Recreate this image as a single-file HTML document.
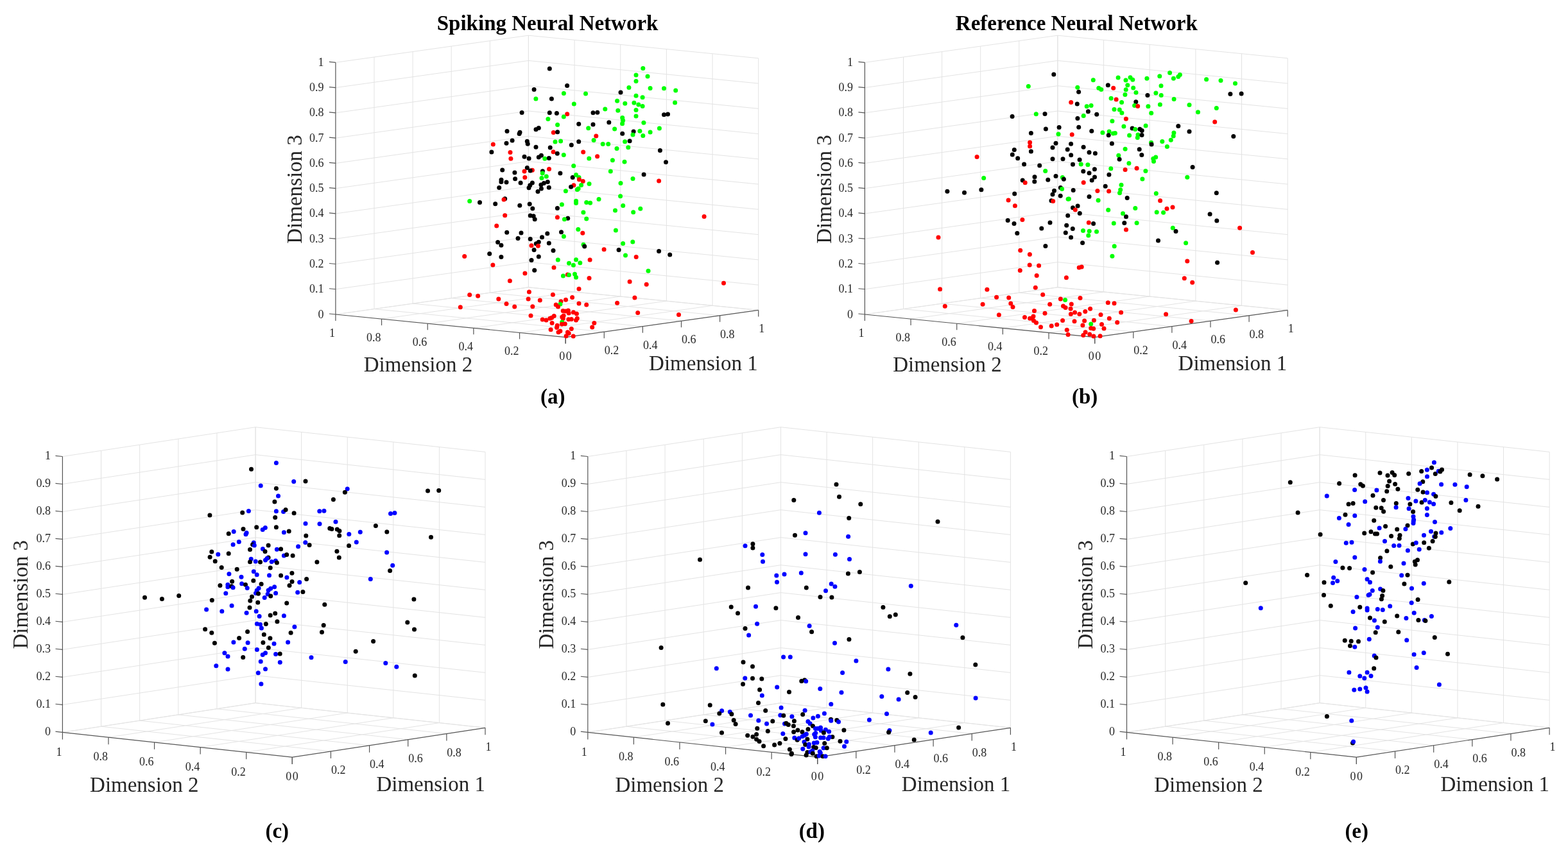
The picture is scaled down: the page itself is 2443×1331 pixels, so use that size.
<!DOCTYPE html>
<html><head><meta charset="utf-8"><title>Spiking vs Reference Neural Network</title>
<style>
html,body{margin:0;padding:0;background:#fff;width:2443px;height:1331px;overflow:hidden}
svg{display:block}
.g{stroke:#e3e3e3;stroke-width:1;fill:none}
.a{stroke:#555555;stroke-width:1.2;fill:none}
text{font-family:"Liberation Serif","Times New Roman",serif;fill:#262626}
.tz{font-size:18px;text-anchor:end}
.t1{font-size:18px;text-anchor:start}
.al{font-size:33px;text-anchor:middle}
.ti{font-size:33px;font-weight:bold;text-anchor:middle;fill:#000}
</style></head><body>
<svg xmlns="http://www.w3.org/2000/svg" width="2443" height="1331" viewBox="0 0 2443 1331">
<rect width="2443" height="1331" fill="#fff"/>
<g id="pa">
<line x1="941.3" y1="517.16" x2="583" y2="481.56" class="g"/>
<line x1="809.54" y1="518.48" x2="1110.04" y2="476.28" class="g"/>
<line x1="1001.4" y1="508.72" x2="643.1" y2="473.12" class="g"/>
<line x1="737.88" y1="511.36" x2="1038.38" y2="469.16" class="g"/>
<line x1="1061.5" y1="500.28" x2="703.2" y2="464.68" class="g"/>
<line x1="666.22" y1="504.24" x2="966.72" y2="462.04" class="g"/>
<line x1="1121.6" y1="491.84" x2="763.3" y2="456.24" class="g"/>
<line x1="594.56" y1="497.12" x2="895.06" y2="454.92" class="g"/>
<line x1="1181.7" y1="483.4" x2="823.4" y2="447.8" class="g"/>
<line x1="522.9" y1="490" x2="823.4" y2="447.8" class="g"/>
<line x1="583" y1="481.56" x2="583" y2="88.96" class="g"/>
<line x1="643.1" y1="473.12" x2="643.1" y2="80.52" class="g"/>
<line x1="703.2" y1="464.68" x2="703.2" y2="72.08" class="g"/>
<line x1="763.3" y1="456.24" x2="763.3" y2="63.64" class="g"/>
<line x1="823.4" y1="447.8" x2="823.4" y2="55.2" class="g"/>
<line x1="522.9" y1="490" x2="823.4" y2="447.8" class="g"/>
<line x1="522.9" y1="450.74" x2="823.4" y2="408.54" class="g"/>
<line x1="522.9" y1="411.48" x2="823.4" y2="369.28" class="g"/>
<line x1="522.9" y1="372.22" x2="823.4" y2="330.02" class="g"/>
<line x1="522.9" y1="332.96" x2="823.4" y2="290.76" class="g"/>
<line x1="522.9" y1="293.7" x2="823.4" y2="251.5" class="g"/>
<line x1="522.9" y1="254.44" x2="823.4" y2="212.24" class="g"/>
<line x1="522.9" y1="215.18" x2="823.4" y2="172.98" class="g"/>
<line x1="522.9" y1="175.92" x2="823.4" y2="133.72" class="g"/>
<line x1="522.9" y1="136.66" x2="823.4" y2="94.46" class="g"/>
<line x1="522.9" y1="97.4" x2="823.4" y2="55.2" class="g"/>
<line x1="1181.7" y1="483.4" x2="1181.7" y2="90.8" class="g"/>
<line x1="1110.04" y1="476.28" x2="1110.04" y2="83.68" class="g"/>
<line x1="1038.38" y1="469.16" x2="1038.38" y2="76.56" class="g"/>
<line x1="966.72" y1="462.04" x2="966.72" y2="69.44" class="g"/>
<line x1="895.06" y1="454.92" x2="895.06" y2="62.32" class="g"/>
<line x1="823.4" y1="447.8" x2="823.4" y2="55.2" class="g"/>
<line x1="1181.7" y1="483.4" x2="823.4" y2="447.8" class="g"/>
<line x1="1181.7" y1="444.14" x2="823.4" y2="408.54" class="g"/>
<line x1="1181.7" y1="404.88" x2="823.4" y2="369.28" class="g"/>
<line x1="1181.7" y1="365.62" x2="823.4" y2="330.02" class="g"/>
<line x1="1181.7" y1="326.36" x2="823.4" y2="290.76" class="g"/>
<line x1="1181.7" y1="287.1" x2="823.4" y2="251.5" class="g"/>
<line x1="1181.7" y1="247.84" x2="823.4" y2="212.24" class="g"/>
<line x1="1181.7" y1="208.58" x2="823.4" y2="172.98" class="g"/>
<line x1="1181.7" y1="169.32" x2="823.4" y2="133.72" class="g"/>
<line x1="1181.7" y1="130.06" x2="823.4" y2="94.46" class="g"/>
<line x1="1181.7" y1="90.8" x2="823.4" y2="55.2" class="g"/>
<line x1="881.2" y1="525.6" x2="522.9" y2="490" class="a"/>
<line x1="881.2" y1="525.6" x2="1181.7" y2="483.4" class="a"/>
<line x1="522.9" y1="490" x2="522.9" y2="97.4" class="a"/>
<line x1="522.9" y1="490" x2="512.95" y2="489.01" class="a"/>
<line x1="522.9" y1="450.74" x2="512.95" y2="449.75" class="a"/>
<line x1="522.9" y1="411.48" x2="512.95" y2="410.49" class="a"/>
<line x1="522.9" y1="372.22" x2="512.95" y2="371.23" class="a"/>
<line x1="522.9" y1="332.96" x2="512.95" y2="331.97" class="a"/>
<line x1="522.9" y1="293.7" x2="512.95" y2="292.71" class="a"/>
<line x1="522.9" y1="254.44" x2="512.95" y2="253.45" class="a"/>
<line x1="522.9" y1="215.18" x2="512.95" y2="214.19" class="a"/>
<line x1="522.9" y1="175.92" x2="512.95" y2="174.93" class="a"/>
<line x1="522.9" y1="136.66" x2="512.95" y2="135.67" class="a"/>
<line x1="522.9" y1="97.4" x2="512.95" y2="96.41" class="a"/>
<line x1="881.2" y1="525.6" x2="881.2" y2="535.6" class="a"/>
<line x1="881.2" y1="525.6" x2="881.2" y2="535.6" class="a"/>
<line x1="941.3" y1="517.16" x2="941.3" y2="527.16" class="a"/>
<line x1="809.54" y1="518.48" x2="809.54" y2="528.48" class="a"/>
<line x1="1001.4" y1="508.72" x2="1001.4" y2="518.72" class="a"/>
<line x1="737.88" y1="511.36" x2="737.88" y2="521.36" class="a"/>
<line x1="1061.5" y1="500.28" x2="1061.5" y2="510.28" class="a"/>
<line x1="666.22" y1="504.24" x2="666.22" y2="514.24" class="a"/>
<line x1="1121.6" y1="491.84" x2="1121.6" y2="501.84" class="a"/>
<line x1="594.56" y1="497.12" x2="594.56" y2="507.12" class="a"/>
<line x1="1181.7" y1="483.4" x2="1181.7" y2="493.4" class="a"/>
<line x1="522.9" y1="490" x2="522.9" y2="500" class="a"/>
<text x="504.4" y="495.5" class="tz">0</text>
<text x="504.4" y="456.24" class="tz">0.1</text>
<text x="504.4" y="416.98" class="tz">0.2</text>
<text x="504.4" y="377.72" class="tz">0.3</text>
<text x="504.4" y="338.46" class="tz">0.4</text>
<text x="504.4" y="299.2" class="tz">0.5</text>
<text x="504.4" y="259.94" class="tz">0.6</text>
<text x="504.4" y="220.68" class="tz">0.7</text>
<text x="504.4" y="181.42" class="tz">0.8</text>
<text x="504.4" y="142.16" class="tz">0.9</text>
<text x="504.4" y="102.9" class="tz">1</text>
<text x="880.2" y="560.6" class="tz">0</text>
<text x="881.7" y="560.6" class="t1">0</text>
<text x="808.54" y="553.48" class="tz">0.2</text>
<text x="941.8" y="552.16" class="t1">0.2</text>
<text x="736.88" y="546.36" class="tz">0.4</text>
<text x="1001.9" y="543.72" class="t1">0.4</text>
<text x="665.22" y="539.24" class="tz">0.6</text>
<text x="1062" y="535.28" class="t1">0.6</text>
<text x="593.56" y="532.12" class="tz">0.8</text>
<text x="1122.1" y="526.84" class="t1">0.8</text>
<text x="521.9" y="525" class="tz">1</text>
<text x="1182.2" y="518.4" class="t1">1</text>
<circle cx="856.3" cy="107.1" r="3.5" fill="#000"/>
<circle cx="883.6" cy="133.6" r="3.5" fill="#000"/>
<circle cx="832.1" cy="139.6" r="3.5" fill="#000"/>
<circle cx="878.4" cy="145.6" r="3.5" fill="#0f0"/>
<circle cx="912.5" cy="145.9" r="3.5" fill="#0f0"/>
<circle cx="834.9" cy="154.1" r="3.5" fill="#0f0"/>
<circle cx="859.4" cy="153.9" r="3.5" fill="#000"/>
<circle cx="894.3" cy="162.1" r="3.5" fill="#0f0"/>
<circle cx="813.1" cy="175.4" r="3.5" fill="#000"/>
<circle cx="856.3" cy="175.7" r="3.5" fill="#000"/>
<circle cx="867.4" cy="176.4" r="3.5" fill="#000"/>
<circle cx="883.7" cy="177.8" r="3.5" fill="#f00"/>
<circle cx="878.3" cy="182.0" r="3.5" fill="#0f0"/>
<circle cx="853.9" cy="185.6" r="3.5" fill="#0f0"/>
<circle cx="868.6" cy="194.6" r="3.5" fill="#0f0"/>
<circle cx="901.7" cy="193.2" r="3.5" fill="#000"/>
<circle cx="916.7" cy="199.8" r="3.5" fill="#0f0"/>
<circle cx="839.3" cy="199.4" r="3.5" fill="#000"/>
<circle cx="835.0" cy="201.8" r="3.5" fill="#000"/>
<circle cx="790.0" cy="204.5" r="3.5" fill="#000"/>
<circle cx="810.0" cy="206.3" r="3.5" fill="#000"/>
<circle cx="809.1" cy="208.5" r="3.5" fill="#000"/>
<circle cx="862.3" cy="206.5" r="3.5" fill="#f00"/>
<circle cx="868.6" cy="205.8" r="3.5" fill="#000"/>
<circle cx="768.3" cy="224.9" r="3.5" fill="#f00"/>
<circle cx="789.0" cy="223.2" r="3.5" fill="#000"/>
<circle cx="798.1" cy="218.9" r="3.5" fill="#000"/>
<circle cx="821.3" cy="220.2" r="3.5" fill="#000"/>
<circle cx="822.2" cy="224.3" r="3.5" fill="#000"/>
<circle cx="865.0" cy="220.9" r="3.5" fill="#0f0"/>
<circle cx="873.6" cy="220.1" r="3.5" fill="#0f0"/>
<circle cx="901.7" cy="220.7" r="3.5" fill="#000"/>
<circle cx="890.3" cy="226.1" r="3.5" fill="#000"/>
<circle cx="835.0" cy="229.3" r="3.5" fill="#000"/>
<circle cx="857.2" cy="229.9" r="3.5" fill="#000"/>
<circle cx="765.9" cy="237.0" r="3.5" fill="#000"/>
<circle cx="795.0" cy="237.6" r="3.5" fill="#f00"/>
<circle cx="795.9" cy="247.3" r="3.5" fill="#f00"/>
<circle cx="862.1" cy="236.7" r="3.5" fill="#f00"/>
<circle cx="868.3" cy="239.2" r="3.5" fill="#000"/>
<circle cx="878.3" cy="241.4" r="3.5" fill="#0f0"/>
<circle cx="908.7" cy="237.1" r="3.5" fill="#f00"/>
<circle cx="917.8" cy="247.0" r="3.5" fill="#0f0"/>
<circle cx="817.0" cy="244.2" r="3.5" fill="#000"/>
<circle cx="824.1" cy="247.1" r="3.5" fill="#000"/>
<circle cx="839.3" cy="245.0" r="3.5" fill="#000"/>
<circle cx="843.4" cy="242.2" r="3.5" fill="#000"/>
<circle cx="848.8" cy="247.3" r="3.5" fill="#0f0"/>
<circle cx="855.3" cy="246.6" r="3.5" fill="#000"/>
<circle cx="893.7" cy="258.4" r="3.5" fill="#0f0"/>
<circle cx="821.3" cy="261.5" r="3.5" fill="#000"/>
<circle cx="829.4" cy="265.3" r="3.5" fill="#f00"/>
<circle cx="826.2" cy="266.0" r="3.5" fill="#000"/>
<circle cx="817.0" cy="267.1" r="3.5" fill="#f00"/>
<circle cx="782.7" cy="265.1" r="3.5" fill="#000"/>
<circle cx="801.9" cy="268.9" r="3.5" fill="#000"/>
<circle cx="845.4" cy="266.7" r="3.5" fill="#000"/>
<circle cx="845.2" cy="270.1" r="3.5" fill="#0f0"/>
<circle cx="855.5" cy="263.5" r="3.5" fill="#f00"/>
<circle cx="872.9" cy="270.1" r="3.5" fill="#000"/>
<circle cx="817.8" cy="276.6" r="3.5" fill="#f00"/>
<circle cx="844.0" cy="277.5" r="3.5" fill="#0f0"/>
<circle cx="851.3" cy="275.1" r="3.5" fill="#0f0"/>
<circle cx="802.6" cy="278.7" r="3.5" fill="#000"/>
<circle cx="781.0" cy="280.2" r="3.5" fill="#000"/>
<circle cx="780.9" cy="283.4" r="3.5" fill="#000"/>
<circle cx="789.0" cy="284.1" r="3.5" fill="#000"/>
<circle cx="811.1" cy="284.9" r="3.5" fill="#000"/>
<circle cx="829.4" cy="285.0" r="3.5" fill="#000"/>
<circle cx="825.8" cy="288.8" r="3.5" fill="#000"/>
<circle cx="824.0" cy="292.8" r="3.5" fill="#000"/>
<circle cx="842.9" cy="287.9" r="3.5" fill="#000"/>
<circle cx="847.4" cy="285.6" r="3.5" fill="#000"/>
<circle cx="853.3" cy="283.4" r="3.5" fill="#000"/>
<circle cx="843.4" cy="294.0" r="3.5" fill="#000"/>
<circle cx="855.3" cy="292.2" r="3.5" fill="#000"/>
<circle cx="838.0" cy="298.5" r="3.5" fill="#000"/>
<circle cx="777.7" cy="292.6" r="3.5" fill="#000"/>
<circle cx="892.2" cy="276.6" r="3.5" fill="#000"/>
<circle cx="897.5" cy="272.4" r="3.5" fill="#0f0"/>
<circle cx="902.0" cy="276.6" r="3.5" fill="#0f0"/>
<circle cx="902.4" cy="279.8" r="3.5" fill="#f00"/>
<circle cx="908.3" cy="282.6" r="3.5" fill="#f00"/>
<circle cx="893.9" cy="288.8" r="3.5" fill="#f00"/>
<circle cx="889.6" cy="291.3" r="3.5" fill="#000"/>
<circle cx="905.6" cy="288.6" r="3.5" fill="#0f0"/>
<circle cx="901.1" cy="294.0" r="3.5" fill="#0f0"/>
<circle cx="899.3" cy="295.5" r="3.5" fill="#0f0"/>
<circle cx="881.4" cy="297.8" r="3.5" fill="#0f0"/>
<circle cx="918.0" cy="286.5" r="3.5" fill="#0f0"/>
<circle cx="786.7" cy="309.7" r="3.5" fill="#000"/>
<circle cx="785.0" cy="311.0" r="3.5" fill="#f00"/>
<circle cx="731.7" cy="313.6" r="3.5" fill="#0f0"/>
<circle cx="747.5" cy="315.6" r="3.5" fill="#000"/>
<circle cx="771.7" cy="317.8" r="3.5" fill="#000"/>
<circle cx="809.8" cy="320.3" r="3.5" fill="#000"/>
<circle cx="825.2" cy="318.1" r="3.5" fill="#000"/>
<circle cx="829.8" cy="325.0" r="3.5" fill="#000"/>
<circle cx="875.4" cy="318.7" r="3.5" fill="#0f0"/>
<circle cx="868.4" cy="324.6" r="3.5" fill="#000"/>
<circle cx="897.5" cy="313.3" r="3.5" fill="#0f0"/>
<circle cx="897.5" cy="316.5" r="3.5" fill="#0f0"/>
<circle cx="913.7" cy="315.4" r="3.5" fill="#0f0"/>
<circle cx="919.6" cy="316.3" r="3.5" fill="#0f0"/>
<circle cx="786.7" cy="335.7" r="3.5" fill="#f00"/>
<circle cx="826.2" cy="335.9" r="3.5" fill="#000"/>
<circle cx="831.2" cy="336.7" r="3.5" fill="#000"/>
<circle cx="833.2" cy="341.8" r="3.5" fill="#000"/>
<circle cx="868.4" cy="338.8" r="3.5" fill="#f00"/>
<circle cx="884.7" cy="340.2" r="3.5" fill="#000"/>
<circle cx="879.4" cy="341.8" r="3.5" fill="#0f0"/>
<circle cx="908.9" cy="331.1" r="3.5" fill="#0f0"/>
<circle cx="913.7" cy="340.9" r="3.5" fill="#0f0"/>
<circle cx="773.7" cy="351.9" r="3.5" fill="#f00"/>
<circle cx="789.7" cy="362.3" r="3.5" fill="#000"/>
<circle cx="812.0" cy="362.9" r="3.5" fill="#000"/>
<circle cx="807.0" cy="371.5" r="3.5" fill="#000"/>
<circle cx="826.2" cy="372.4" r="3.5" fill="#000"/>
<circle cx="844.5" cy="369.7" r="3.5" fill="#000"/>
<circle cx="852.8" cy="364.1" r="3.5" fill="#000"/>
<circle cx="874.5" cy="361.8" r="3.5" fill="#000"/>
<circle cx="900.8" cy="357.6" r="3.5" fill="#0f0"/>
<circle cx="907.8" cy="363.2" r="3.5" fill="#f00"/>
<circle cx="878.4" cy="368.6" r="3.5" fill="#0f0"/>
<circle cx="775.6" cy="377.4" r="3.5" fill="#000"/>
<circle cx="780.9" cy="382.3" r="3.5" fill="#000"/>
<circle cx="839.3" cy="377.3" r="3.5" fill="#000"/>
<circle cx="835.3" cy="379.7" r="3.5" fill="#000"/>
<circle cx="828.0" cy="382.7" r="3.5" fill="#f00"/>
<circle cx="838.4" cy="383.2" r="3.5" fill="#f00"/>
<circle cx="855.3" cy="378.9" r="3.5" fill="#000"/>
<circle cx="909.0" cy="381.2" r="3.5" fill="#0f0"/>
<circle cx="910.7" cy="383.9" r="3.5" fill="#000"/>
<circle cx="832.1" cy="389.5" r="3.5" fill="#000"/>
<circle cx="862.0" cy="390.5" r="3.5" fill="#000"/>
<circle cx="723.7" cy="399.4" r="3.5" fill="#f00"/>
<circle cx="762.7" cy="395.4" r="3.5" fill="#000"/>
<circle cx="780.9" cy="400.4" r="3.5" fill="#000"/>
<circle cx="839.3" cy="400.1" r="3.5" fill="#000"/>
<circle cx="828.0" cy="405.5" r="3.5" fill="#000"/>
<circle cx="869.3" cy="404.9" r="3.5" fill="#0f0"/>
<circle cx="897.5" cy="404.8" r="3.5" fill="#0f0"/>
<circle cx="886.5" cy="410.3" r="3.5" fill="#0f0"/>
<circle cx="893.4" cy="413.2" r="3.5" fill="#0f0"/>
<circle cx="903.8" cy="409.8" r="3.5" fill="#0f0"/>
<circle cx="919.1" cy="405.1" r="3.5" fill="#f00"/>
<circle cx="767.9" cy="412.9" r="3.5" fill="#f00"/>
<circle cx="863.0" cy="417.1" r="3.5" fill="#f00"/>
<circle cx="832.7" cy="421.3" r="3.5" fill="#000"/>
<circle cx="817.9" cy="426.0" r="3.5" fill="#f00"/>
<circle cx="794.4" cy="437.7" r="3.5" fill="#f00"/>
<circle cx="877.4" cy="429.9" r="3.5" fill="#0f0"/>
<circle cx="884.4" cy="428.1" r="3.5" fill="#f00"/>
<circle cx="886.5" cy="428.5" r="3.5" fill="#0f0"/>
<circle cx="895.5" cy="427.2" r="3.5" fill="#0f0"/>
<circle cx="897.5" cy="432.3" r="3.5" fill="#0f0"/>
<circle cx="918.0" cy="433.5" r="3.5" fill="#f00"/>
<circle cx="902.0" cy="450.2" r="3.5" fill="#f00"/>
<circle cx="824.4" cy="455.1" r="3.5" fill="#f00"/>
<circle cx="861.4" cy="459.2" r="3.5" fill="#f00"/>
<circle cx="731.7" cy="459.6" r="3.5" fill="#f00"/>
<circle cx="744.6" cy="461.2" r="3.5" fill="#f00"/>
<circle cx="776.8" cy="466.1" r="3.5" fill="#f00"/>
<circle cx="823.1" cy="465.9" r="3.5" fill="#f00"/>
<circle cx="841.3" cy="468.0" r="3.5" fill="#f00"/>
<circle cx="891.6" cy="463.5" r="3.5" fill="#f00"/>
<circle cx="881.5" cy="467.3" r="3.5" fill="#f00"/>
<circle cx="874.0" cy="469.7" r="3.5" fill="#f00"/>
<circle cx="872.9" cy="474.1" r="3.5" fill="#0f0"/>
<circle cx="866.2" cy="475.0" r="3.5" fill="#f00"/>
<circle cx="869.5" cy="478.1" r="3.5" fill="#f00"/>
<circle cx="902.0" cy="473.0" r="3.5" fill="#f00"/>
<circle cx="913.7" cy="475.0" r="3.5" fill="#f00"/>
<circle cx="789.0" cy="473.4" r="3.5" fill="#f00"/>
<circle cx="801.7" cy="477.9" r="3.5" fill="#f00"/>
<circle cx="829.8" cy="477.8" r="3.5" fill="#f00"/>
<circle cx="717.3" cy="478.8" r="3.5" fill="#f00"/>
<circle cx="827.0" cy="492.1" r="3.5" fill="#f00"/>
<circle cx="877.2" cy="484.6" r="3.5" fill="#f00"/>
<circle cx="881.2" cy="484.9" r="3.5" fill="#f00"/>
<circle cx="885.3" cy="484.0" r="3.5" fill="#f00"/>
<circle cx="886.2" cy="488.0" r="3.5" fill="#f00"/>
<circle cx="893.4" cy="486.7" r="3.5" fill="#f00"/>
<circle cx="898.4" cy="489.1" r="3.5" fill="#f00"/>
<circle cx="863.2" cy="492.4" r="3.5" fill="#f00"/>
<circle cx="859.6" cy="495.3" r="3.5" fill="#f00"/>
<circle cx="856.9" cy="496.2" r="3.5" fill="#f00"/>
<circle cx="845.2" cy="498.0" r="3.5" fill="#f00"/>
<circle cx="851.0" cy="498.9" r="3.5" fill="#f00"/>
<circle cx="878.1" cy="492.1" r="3.5" fill="#f00"/>
<circle cx="875.8" cy="493.9" r="3.5" fill="#f00"/>
<circle cx="877.2" cy="496.6" r="3.5" fill="#f00"/>
<circle cx="885.8" cy="497.8" r="3.5" fill="#f00"/>
<circle cx="890.3" cy="497.5" r="3.5" fill="#f00"/>
<circle cx="899.3" cy="496.2" r="3.5" fill="#f00"/>
<circle cx="897.5" cy="498.9" r="3.5" fill="#f00"/>
<circle cx="875.7" cy="502.0" r="3.5" fill="#0f0"/>
<circle cx="860.1" cy="503.6" r="3.5" fill="#f00"/>
<circle cx="875.4" cy="505.2" r="3.5" fill="#f00"/>
<circle cx="880.3" cy="504.7" r="3.5" fill="#f00"/>
<circle cx="868.2" cy="507.2" r="3.5" fill="#f00"/>
<circle cx="867.5" cy="510.6" r="3.5" fill="#f00"/>
<circle cx="890.3" cy="512.4" r="3.5" fill="#f00"/>
<circle cx="858.1" cy="513.7" r="3.5" fill="#f00"/>
<circle cx="872.9" cy="516.0" r="3.5" fill="#f00"/>
<circle cx="870.0" cy="517.8" r="3.5" fill="#f00"/>
<circle cx="884.4" cy="517.8" r="3.5" fill="#f00"/>
<circle cx="886.2" cy="519.6" r="3.5" fill="#f00"/>
<circle cx="882.1" cy="523.7" r="3.5" fill="#f00"/>
<circle cx="893.2" cy="524.1" r="3.5" fill="#f00"/>
<circle cx="922.7" cy="509.9" r="3.5" fill="#f00"/>
<circle cx="1001.8" cy="106.4" r="3.5" fill="#0f0"/>
<circle cx="991.0" cy="116.9" r="3.5" fill="#0f0"/>
<circle cx="1009.0" cy="118.9" r="3.5" fill="#0f0"/>
<circle cx="991.0" cy="126.5" r="3.5" fill="#0f0"/>
<circle cx="979.9" cy="136.4" r="3.5" fill="#0f0"/>
<circle cx="1013.1" cy="137.6" r="3.5" fill="#0f0"/>
<circle cx="1034.5" cy="137.8" r="3.5" fill="#0f0"/>
<circle cx="1052.7" cy="141.1" r="3.5" fill="#0f0"/>
<circle cx="967.0" cy="143.9" r="3.5" fill="#000"/>
<circle cx="991.0" cy="149.2" r="3.5" fill="#0f0"/>
<circle cx="1001.1" cy="151.8" r="3.5" fill="#0f0"/>
<circle cx="961.6" cy="157.2" r="3.5" fill="#0f0"/>
<circle cx="973.8" cy="161.2" r="3.5" fill="#0f0"/>
<circle cx="987.9" cy="160.2" r="3.5" fill="#0f0"/>
<circle cx="994.8" cy="162.9" r="3.5" fill="#0f0"/>
<circle cx="1001.1" cy="165.5" r="3.5" fill="#0f0"/>
<circle cx="1051.6" cy="159.9" r="3.5" fill="#0f0"/>
<circle cx="942.8" cy="170.1" r="3.5" fill="#0f0"/>
<circle cx="962.8" cy="172.2" r="3.5" fill="#0f0"/>
<circle cx="991.0" cy="171.6" r="3.5" fill="#0f0"/>
<circle cx="924.0" cy="175.7" r="3.5" fill="#000"/>
<circle cx="930.8" cy="175.2" r="3.5" fill="#000"/>
<circle cx="1034.5" cy="178.8" r="3.5" fill="#000"/>
<circle cx="1040.5" cy="177.9" r="3.5" fill="#000"/>
<circle cx="991.0" cy="180.9" r="3.5" fill="#0f0"/>
<circle cx="969.7" cy="183.6" r="3.5" fill="#0f0"/>
<circle cx="970.6" cy="187.8" r="3.5" fill="#0f0"/>
<circle cx="969.6" cy="192.8" r="3.5" fill="#0f0"/>
<circle cx="948.8" cy="190.8" r="3.5" fill="#000"/>
<circle cx="924.0" cy="193.9" r="3.5" fill="#000"/>
<circle cx="1002.9" cy="191.2" r="3.5" fill="#0f0"/>
<circle cx="1027.4" cy="200.0" r="3.5" fill="#0f0"/>
<circle cx="957.6" cy="200.9" r="3.5" fill="#0f0"/>
<circle cx="969.7" cy="208.3" r="3.5" fill="#000"/>
<circle cx="987.1" cy="205.1" r="3.5" fill="#000"/>
<circle cx="986.0" cy="209.9" r="3.5" fill="#0f0"/>
<circle cx="996.9" cy="204.3" r="3.5" fill="#0f0"/>
<circle cx="1001.8" cy="211.5" r="3.5" fill="#0f0"/>
<circle cx="1013.1" cy="206.0" r="3.5" fill="#0f0"/>
<circle cx="928.8" cy="211.9" r="3.5" fill="#f00"/>
<circle cx="925.1" cy="218.4" r="3.5" fill="#0f0"/>
<circle cx="973.6" cy="220.7" r="3.5" fill="#0f0"/>
<circle cx="981.1" cy="219.8" r="3.5" fill="#000"/>
<circle cx="939.2" cy="224.6" r="3.5" fill="#0f0"/>
<circle cx="947.7" cy="224.6" r="3.5" fill="#0f0"/>
<circle cx="961.0" cy="231.5" r="3.5" fill="#0f0"/>
<circle cx="978.8" cy="229.7" r="3.5" fill="#0f0"/>
<circle cx="1028.4" cy="234.5" r="3.5" fill="#000"/>
<circle cx="930.6" cy="243.7" r="3.5" fill="#f00"/>
<circle cx="954.4" cy="249.8" r="3.5" fill="#0f0"/>
<circle cx="973.0" cy="252.3" r="3.5" fill="#0f0"/>
<circle cx="1037.5" cy="252.7" r="3.5" fill="#000"/>
<circle cx="951.3" cy="266.9" r="3.5" fill="#0f0"/>
<circle cx="1003.1" cy="271.9" r="3.5" fill="#000"/>
<circle cx="986.0" cy="278.4" r="3.5" fill="#0f0"/>
<circle cx="1026.6" cy="282.0" r="3.5" fill="#f00"/>
<circle cx="967.0" cy="285.4" r="3.5" fill="#0f0"/>
<circle cx="966.6" cy="305.7" r="3.5" fill="#0f0"/>
<circle cx="933.0" cy="310.6" r="3.5" fill="#0f0"/>
<circle cx="970.7" cy="320.5" r="3.5" fill="#0f0"/>
<circle cx="958.5" cy="328.0" r="3.5" fill="#0f0"/>
<circle cx="986.7" cy="330.7" r="3.5" fill="#0f0"/>
<circle cx="997.8" cy="325.3" r="3.5" fill="#0f0"/>
<circle cx="1097.1" cy="337.6" r="3.5" fill="#f00"/>
<circle cx="959.4" cy="359.1" r="3.5" fill="#0f0"/>
<circle cx="970.6" cy="379.4" r="3.5" fill="#0f0"/>
<circle cx="985.8" cy="377.1" r="3.5" fill="#0f0"/>
<circle cx="941.1" cy="388.7" r="3.5" fill="#f00"/>
<circle cx="964.1" cy="389.6" r="3.5" fill="#000"/>
<circle cx="1026.6" cy="391.6" r="3.5" fill="#000"/>
<circle cx="1043.7" cy="397.0" r="3.5" fill="#000"/>
<circle cx="974.5" cy="397.9" r="3.5" fill="#0f0"/>
<circle cx="991.2" cy="400.4" r="3.5" fill="#f00"/>
<circle cx="1010.0" cy="422.2" r="3.5" fill="#0f0"/>
<circle cx="981.1" cy="439.1" r="3.5" fill="#f00"/>
<circle cx="1007.2" cy="443.2" r="3.5" fill="#f00"/>
<circle cx="1127.5" cy="441.3" r="3.5" fill="#f00"/>
<circle cx="988.9" cy="464.0" r="3.5" fill="#f00"/>
<circle cx="961.6" cy="472.3" r="3.5" fill="#f00"/>
<circle cx="993.7" cy="487.6" r="3.5" fill="#f00"/>
<circle cx="1057.5" cy="490.6" r="3.5" fill="#f00"/>
<circle cx="925.8" cy="503.5" r="3.5" fill="#f00"/>
</g>
<g id="pb">
<line x1="1765.8" y1="517.16" x2="1407.5" y2="481.56" class="g"/>
<line x1="1634.04" y1="518.48" x2="1934.54" y2="476.28" class="g"/>
<line x1="1825.9" y1="508.72" x2="1467.6" y2="473.12" class="g"/>
<line x1="1562.38" y1="511.36" x2="1862.88" y2="469.16" class="g"/>
<line x1="1886" y1="500.28" x2="1527.7" y2="464.68" class="g"/>
<line x1="1490.72" y1="504.24" x2="1791.22" y2="462.04" class="g"/>
<line x1="1946.1" y1="491.84" x2="1587.8" y2="456.24" class="g"/>
<line x1="1419.06" y1="497.12" x2="1719.56" y2="454.92" class="g"/>
<line x1="2006.2" y1="483.4" x2="1647.9" y2="447.8" class="g"/>
<line x1="1347.4" y1="490" x2="1647.9" y2="447.8" class="g"/>
<line x1="1407.5" y1="481.56" x2="1407.5" y2="88.96" class="g"/>
<line x1="1467.6" y1="473.12" x2="1467.6" y2="80.52" class="g"/>
<line x1="1527.7" y1="464.68" x2="1527.7" y2="72.08" class="g"/>
<line x1="1587.8" y1="456.24" x2="1587.8" y2="63.64" class="g"/>
<line x1="1647.9" y1="447.8" x2="1647.9" y2="55.2" class="g"/>
<line x1="1347.4" y1="490" x2="1647.9" y2="447.8" class="g"/>
<line x1="1347.4" y1="450.74" x2="1647.9" y2="408.54" class="g"/>
<line x1="1347.4" y1="411.48" x2="1647.9" y2="369.28" class="g"/>
<line x1="1347.4" y1="372.22" x2="1647.9" y2="330.02" class="g"/>
<line x1="1347.4" y1="332.96" x2="1647.9" y2="290.76" class="g"/>
<line x1="1347.4" y1="293.7" x2="1647.9" y2="251.5" class="g"/>
<line x1="1347.4" y1="254.44" x2="1647.9" y2="212.24" class="g"/>
<line x1="1347.4" y1="215.18" x2="1647.9" y2="172.98" class="g"/>
<line x1="1347.4" y1="175.92" x2="1647.9" y2="133.72" class="g"/>
<line x1="1347.4" y1="136.66" x2="1647.9" y2="94.46" class="g"/>
<line x1="1347.4" y1="97.4" x2="1647.9" y2="55.2" class="g"/>
<line x1="2006.2" y1="483.4" x2="2006.2" y2="90.8" class="g"/>
<line x1="1934.54" y1="476.28" x2="1934.54" y2="83.68" class="g"/>
<line x1="1862.88" y1="469.16" x2="1862.88" y2="76.56" class="g"/>
<line x1="1791.22" y1="462.04" x2="1791.22" y2="69.44" class="g"/>
<line x1="1719.56" y1="454.92" x2="1719.56" y2="62.32" class="g"/>
<line x1="1647.9" y1="447.8" x2="1647.9" y2="55.2" class="g"/>
<line x1="2006.2" y1="483.4" x2="1647.9" y2="447.8" class="g"/>
<line x1="2006.2" y1="444.14" x2="1647.9" y2="408.54" class="g"/>
<line x1="2006.2" y1="404.88" x2="1647.9" y2="369.28" class="g"/>
<line x1="2006.2" y1="365.62" x2="1647.9" y2="330.02" class="g"/>
<line x1="2006.2" y1="326.36" x2="1647.9" y2="290.76" class="g"/>
<line x1="2006.2" y1="287.1" x2="1647.9" y2="251.5" class="g"/>
<line x1="2006.2" y1="247.84" x2="1647.9" y2="212.24" class="g"/>
<line x1="2006.2" y1="208.58" x2="1647.9" y2="172.98" class="g"/>
<line x1="2006.2" y1="169.32" x2="1647.9" y2="133.72" class="g"/>
<line x1="2006.2" y1="130.06" x2="1647.9" y2="94.46" class="g"/>
<line x1="2006.2" y1="90.8" x2="1647.9" y2="55.2" class="g"/>
<line x1="1705.7" y1="525.6" x2="1347.4" y2="490" class="a"/>
<line x1="1705.7" y1="525.6" x2="2006.2" y2="483.4" class="a"/>
<line x1="1347.4" y1="490" x2="1347.4" y2="97.4" class="a"/>
<line x1="1347.4" y1="490" x2="1337.45" y2="489.01" class="a"/>
<line x1="1347.4" y1="450.74" x2="1337.45" y2="449.75" class="a"/>
<line x1="1347.4" y1="411.48" x2="1337.45" y2="410.49" class="a"/>
<line x1="1347.4" y1="372.22" x2="1337.45" y2="371.23" class="a"/>
<line x1="1347.4" y1="332.96" x2="1337.45" y2="331.97" class="a"/>
<line x1="1347.4" y1="293.7" x2="1337.45" y2="292.71" class="a"/>
<line x1="1347.4" y1="254.44" x2="1337.45" y2="253.45" class="a"/>
<line x1="1347.4" y1="215.18" x2="1337.45" y2="214.19" class="a"/>
<line x1="1347.4" y1="175.92" x2="1337.45" y2="174.93" class="a"/>
<line x1="1347.4" y1="136.66" x2="1337.45" y2="135.67" class="a"/>
<line x1="1347.4" y1="97.4" x2="1337.45" y2="96.41" class="a"/>
<line x1="1705.7" y1="525.6" x2="1705.7" y2="535.6" class="a"/>
<line x1="1705.7" y1="525.6" x2="1705.7" y2="535.6" class="a"/>
<line x1="1765.8" y1="517.16" x2="1765.8" y2="527.16" class="a"/>
<line x1="1634.04" y1="518.48" x2="1634.04" y2="528.48" class="a"/>
<line x1="1825.9" y1="508.72" x2="1825.9" y2="518.72" class="a"/>
<line x1="1562.38" y1="511.36" x2="1562.38" y2="521.36" class="a"/>
<line x1="1886" y1="500.28" x2="1886" y2="510.28" class="a"/>
<line x1="1490.72" y1="504.24" x2="1490.72" y2="514.24" class="a"/>
<line x1="1946.1" y1="491.84" x2="1946.1" y2="501.84" class="a"/>
<line x1="1419.06" y1="497.12" x2="1419.06" y2="507.12" class="a"/>
<line x1="2006.2" y1="483.4" x2="2006.2" y2="493.4" class="a"/>
<line x1="1347.4" y1="490" x2="1347.4" y2="500" class="a"/>
<text x="1328.9" y="495.5" class="tz">0</text>
<text x="1328.9" y="456.24" class="tz">0.1</text>
<text x="1328.9" y="416.98" class="tz">0.2</text>
<text x="1328.9" y="377.72" class="tz">0.3</text>
<text x="1328.9" y="338.46" class="tz">0.4</text>
<text x="1328.9" y="299.2" class="tz">0.5</text>
<text x="1328.9" y="259.94" class="tz">0.6</text>
<text x="1328.9" y="220.68" class="tz">0.7</text>
<text x="1328.9" y="181.42" class="tz">0.8</text>
<text x="1328.9" y="142.16" class="tz">0.9</text>
<text x="1328.9" y="102.9" class="tz">1</text>
<text x="1704.7" y="560.6" class="tz">0</text>
<text x="1706.2" y="560.6" class="t1">0</text>
<text x="1633.04" y="553.48" class="tz">0.2</text>
<text x="1766.3" y="552.16" class="t1">0.2</text>
<text x="1561.38" y="546.36" class="tz">0.4</text>
<text x="1826.4" y="543.72" class="t1">0.4</text>
<text x="1489.72" y="539.24" class="tz">0.6</text>
<text x="1886.5" y="535.28" class="t1">0.6</text>
<text x="1418.06" y="532.12" class="tz">0.8</text>
<text x="1946.6" y="526.84" class="t1">0.8</text>
<text x="1346.4" y="525" class="tz">1</text>
<text x="2006.7" y="518.4" class="t1">1</text>
<circle cx="1641.8" cy="115.9" r="3.5" fill="#000"/>
<circle cx="1602.3" cy="134.6" r="3.5" fill="#0f0"/>
<circle cx="1577.1" cy="181.5" r="3.5" fill="#000"/>
<circle cx="1614.3" cy="177.7" r="3.5" fill="#0f0"/>
<circle cx="1628.0" cy="177.5" r="3.5" fill="#000"/>
<circle cx="1650.1" cy="198.5" r="3.5" fill="#000"/>
<circle cx="1885.1" cy="333.7" r="3.5" fill="#000"/>
<circle cx="1895.8" cy="343.9" r="3.5" fill="#000"/>
<circle cx="1931.6" cy="355.2" r="3.5" fill="#f00"/>
<circle cx="1951.5" cy="393.4" r="3.5" fill="#f00"/>
<circle cx="1896.6" cy="409.3" r="3.5" fill="#000"/>
<circle cx="1925.4" cy="482.9" r="3.5" fill="#f00"/>
<circle cx="1629.4" cy="200.9" r="3.5" fill="#000"/>
<circle cx="1606.4" cy="207.6" r="3.5" fill="#000"/>
<circle cx="1649.0" cy="209.0" r="3.5" fill="#0f0"/>
<circle cx="1604.6" cy="221.9" r="3.5" fill="#f00"/>
<circle cx="1604.6" cy="227.9" r="3.5" fill="#f00"/>
<circle cx="1645.0" cy="223.2" r="3.5" fill="#000"/>
<circle cx="1640.0" cy="230.0" r="3.5" fill="#000"/>
<circle cx="1663.2" cy="232.9" r="3.5" fill="#000"/>
<circle cx="1580.3" cy="233.6" r="3.5" fill="#000"/>
<circle cx="1577.3" cy="241.0" r="3.5" fill="#000"/>
<circle cx="1585.7" cy="246.8" r="3.5" fill="#000"/>
<circle cx="1606.4" cy="236.0" r="3.5" fill="#000"/>
<circle cx="1522.1" cy="244.4" r="3.5" fill="#f00"/>
<circle cx="1640.0" cy="247.8" r="3.5" fill="#000"/>
<circle cx="1656.0" cy="247.8" r="3.5" fill="#000"/>
<circle cx="1595.6" cy="255.9" r="3.5" fill="#000"/>
<circle cx="1619.7" cy="258.1" r="3.5" fill="#000"/>
<circle cx="1628.7" cy="266.4" r="3.5" fill="#0f0"/>
<circle cx="1532.7" cy="277.5" r="3.5" fill="#0f0"/>
<circle cx="1612.0" cy="275.7" r="3.5" fill="#000"/>
<circle cx="1611.8" cy="282.9" r="3.5" fill="#000"/>
<circle cx="1593.2" cy="281.1" r="3.5" fill="#000"/>
<circle cx="1597.2" cy="284.7" r="3.5" fill="#f00"/>
<circle cx="1632.8" cy="280.2" r="3.5" fill="#000"/>
<circle cx="1645.0" cy="274.4" r="3.5" fill="#000"/>
<circle cx="1655.4" cy="276.6" r="3.5" fill="#0f0"/>
<circle cx="1657.4" cy="279.3" r="3.5" fill="#000"/>
<circle cx="1475.9" cy="298.2" r="3.5" fill="#000"/>
<circle cx="1502.5" cy="300.3" r="3.5" fill="#000"/>
<circle cx="1528.9" cy="295.8" r="3.5" fill="#000"/>
<circle cx="1580.7" cy="302.1" r="3.5" fill="#000"/>
<circle cx="1652.4" cy="292.4" r="3.5" fill="#000"/>
<circle cx="1654.6" cy="294.6" r="3.5" fill="#0f0"/>
<circle cx="1642.5" cy="297.2" r="3.5" fill="#000"/>
<circle cx="1640.0" cy="302.9" r="3.5" fill="#000"/>
<circle cx="1652.2" cy="305.2" r="3.5" fill="#000"/>
<circle cx="1664.1" cy="310.2" r="3.5" fill="#0f0"/>
<circle cx="1571.1" cy="312.0" r="3.5" fill="#f00"/>
<circle cx="1638.0" cy="312.7" r="3.5" fill="#000"/>
<circle cx="1640.7" cy="313.4" r="3.5" fill="#f00"/>
<circle cx="1581.4" cy="320.8" r="3.5" fill="#f00"/>
<circle cx="1663.7" cy="336.1" r="3.5" fill="#000"/>
<circle cx="1570.2" cy="343.5" r="3.5" fill="#000"/>
<circle cx="1580.0" cy="348.6" r="3.5" fill="#000"/>
<circle cx="1592.9" cy="342.4" r="3.5" fill="#f00"/>
<circle cx="1636.0" cy="347.1" r="3.5" fill="#000"/>
<circle cx="1622.8" cy="356.1" r="3.5" fill="#000"/>
<circle cx="1661.7" cy="351.2" r="3.5" fill="#000"/>
<circle cx="1660.3" cy="362.7" r="3.5" fill="#000"/>
<circle cx="1584.8" cy="363.4" r="3.5" fill="#000"/>
<circle cx="1462.0" cy="369.9" r="3.5" fill="#f00"/>
<circle cx="1628.9" cy="383.4" r="3.5" fill="#000"/>
<circle cx="1589.7" cy="390.2" r="3.5" fill="#f00"/>
<circle cx="1604.4" cy="396.5" r="3.5" fill="#f00"/>
<circle cx="1604.2" cy="413.0" r="3.5" fill="#f00"/>
<circle cx="1618.6" cy="414.1" r="3.5" fill="#f00"/>
<circle cx="1589.3" cy="421.6" r="3.5" fill="#f00"/>
<circle cx="1615.2" cy="429.6" r="3.5" fill="#f00"/>
<circle cx="1661.4" cy="432.8" r="3.5" fill="#f00"/>
<circle cx="1464.6" cy="450.8" r="3.5" fill="#f00"/>
<circle cx="1537.9" cy="451.3" r="3.5" fill="#f00"/>
<circle cx="1613.3" cy="448.2" r="3.5" fill="#f00"/>
<circle cx="1624.7" cy="459.2" r="3.5" fill="#f00"/>
<circle cx="1552.6" cy="463.2" r="3.5" fill="#f00"/>
<circle cx="1571.7" cy="464.1" r="3.5" fill="#f00"/>
<circle cx="1652.4" cy="465.9" r="3.5" fill="#f00"/>
<circle cx="1659.6" cy="467.6" r="3.5" fill="#0f0"/>
<circle cx="1531.1" cy="474.2" r="3.5" fill="#f00"/>
<circle cx="1472.3" cy="477.2" r="3.5" fill="#f00"/>
<circle cx="1574.8" cy="473.0" r="3.5" fill="#f00"/>
<circle cx="1578.0" cy="478.4" r="3.5" fill="#f00"/>
<circle cx="1635.7" cy="474.3" r="3.5" fill="#f00"/>
<circle cx="1656.5" cy="477.0" r="3.5" fill="#f00"/>
<circle cx="1660.1" cy="479.5" r="3.5" fill="#f00"/>
<circle cx="1611.5" cy="484.4" r="3.5" fill="#f00"/>
<circle cx="1628.0" cy="488.2" r="3.5" fill="#f00"/>
<circle cx="1556.4" cy="490.7" r="3.5" fill="#f00"/>
<circle cx="1596.5" cy="494.4" r="3.5" fill="#f00"/>
<circle cx="1604.6" cy="496.3" r="3.5" fill="#f00"/>
<circle cx="1610.0" cy="493.0" r="3.5" fill="#f00"/>
<circle cx="1607.8" cy="496.2" r="3.5" fill="#f00"/>
<circle cx="1610.5" cy="499.8" r="3.5" fill="#f00"/>
<circle cx="1614.5" cy="502.9" r="3.5" fill="#f00"/>
<circle cx="1621.5" cy="509.7" r="3.5" fill="#f00"/>
<circle cx="1638.2" cy="508.1" r="3.5" fill="#f00"/>
<circle cx="1646.7" cy="505.9" r="3.5" fill="#f00"/>
<circle cx="1655.6" cy="499.5" r="3.5" fill="#f00"/>
<circle cx="1662.3" cy="514.2" r="3.5" fill="#f00"/>
<circle cx="1664.1" cy="521.4" r="3.5" fill="#f00"/>
<circle cx="1703.3" cy="124.7" r="3.5" fill="#0f0"/>
<circle cx="1678.8" cy="136.3" r="3.5" fill="#0f0"/>
<circle cx="1680.6" cy="143.2" r="3.5" fill="#000"/>
<circle cx="1711.8" cy="137.3" r="3.5" fill="#0f0"/>
<circle cx="1715.7" cy="139.4" r="3.5" fill="#0f0"/>
<circle cx="1726.3" cy="132.8" r="3.5" fill="#000"/>
<circle cx="1734.7" cy="137.3" r="3.5" fill="#f00"/>
<circle cx="1742.1" cy="121.1" r="3.5" fill="#0f0"/>
<circle cx="1754.0" cy="124.9" r="3.5" fill="#0f0"/>
<circle cx="1761.0" cy="120.7" r="3.5" fill="#0f0"/>
<circle cx="1764.8" cy="124.3" r="3.5" fill="#0f0"/>
<circle cx="1786.9" cy="122.3" r="3.5" fill="#0f0"/>
<circle cx="1806.8" cy="118.7" r="3.5" fill="#0f0"/>
<circle cx="1822.6" cy="113.6" r="3.5" fill="#0f0"/>
<circle cx="1828.4" cy="122.3" r="3.5" fill="#0f0"/>
<circle cx="1835.8" cy="119.6" r="3.5" fill="#0f0"/>
<circle cx="1838.4" cy="116.6" r="3.5" fill="#0f0"/>
<circle cx="1879.6" cy="123.8" r="3.5" fill="#0f0"/>
<circle cx="1756.8" cy="132.8" r="3.5" fill="#0f0"/>
<circle cx="1765.7" cy="137.1" r="3.5" fill="#0f0"/>
<circle cx="1754.2" cy="139.8" r="3.5" fill="#0f0"/>
<circle cx="1770.0" cy="144.3" r="3.5" fill="#0f0"/>
<circle cx="1752.9" cy="147.4" r="3.5" fill="#0f0"/>
<circle cx="1809.0" cy="133.7" r="3.5" fill="#0f0"/>
<circle cx="1800.9" cy="145.0" r="3.5" fill="#0f0"/>
<circle cx="1809.2" cy="148.6" r="3.5" fill="#0f0"/>
<circle cx="1787.9" cy="148.6" r="3.5" fill="#000"/>
<circle cx="1731.1" cy="153.3" r="3.5" fill="#0f0"/>
<circle cx="1739.1" cy="155.1" r="3.5" fill="#f00"/>
<circle cx="1747.6" cy="159.6" r="3.5" fill="#0f0"/>
<circle cx="1769.8" cy="158.7" r="3.5" fill="#000"/>
<circle cx="1767.6" cy="164.4" r="3.5" fill="#0f0"/>
<circle cx="1772.7" cy="165.6" r="3.5" fill="#f00"/>
<circle cx="1788.9" cy="165.7" r="3.5" fill="#0f0"/>
<circle cx="1829.1" cy="154.5" r="3.5" fill="#0f0"/>
<circle cx="1807.4" cy="163.0" r="3.5" fill="#0f0"/>
<circle cx="1853.0" cy="163.5" r="3.5" fill="#0f0"/>
<circle cx="1866.5" cy="174.8" r="3.5" fill="#0f0"/>
<circle cx="1668.7" cy="159.4" r="3.5" fill="#f00"/>
<circle cx="1678.3" cy="162.0" r="3.5" fill="#000"/>
<circle cx="1693.2" cy="165.7" r="3.5" fill="#0f0"/>
<circle cx="1700.1" cy="164.6" r="3.5" fill="#0f0"/>
<circle cx="1695.4" cy="173.7" r="3.5" fill="#000"/>
<circle cx="1708.7" cy="178.2" r="3.5" fill="#000"/>
<circle cx="1736.0" cy="170.5" r="3.5" fill="#0f0"/>
<circle cx="1744.3" cy="170.9" r="3.5" fill="#0f0"/>
<circle cx="1747.9" cy="175.9" r="3.5" fill="#0f0"/>
<circle cx="1793.7" cy="176.3" r="3.5" fill="#0f0"/>
<circle cx="1688.2" cy="180.6" r="3.5" fill="#0f0"/>
<circle cx="1678.9" cy="184.5" r="3.5" fill="#000"/>
<circle cx="1732.9" cy="188.7" r="3.5" fill="#0f0"/>
<circle cx="1754.4" cy="185.3" r="3.5" fill="#f00"/>
<circle cx="1835.8" cy="196.4" r="3.5" fill="#000"/>
<circle cx="1785.1" cy="196.1" r="3.5" fill="#0f0"/>
<circle cx="1750.9" cy="197.0" r="3.5" fill="#0f0"/>
<circle cx="1680.7" cy="198.2" r="3.5" fill="#000"/>
<circle cx="1700.8" cy="204.3" r="3.5" fill="#000"/>
<circle cx="1670.2" cy="209.7" r="3.5" fill="#f00"/>
<circle cx="1717.9" cy="206.7" r="3.5" fill="#0f0"/>
<circle cx="1728.1" cy="204.9" r="3.5" fill="#0f0"/>
<circle cx="1727.2" cy="210.8" r="3.5" fill="#000"/>
<circle cx="1734.4" cy="208.1" r="3.5" fill="#0f0"/>
<circle cx="1737.4" cy="207.6" r="3.5" fill="#0f0"/>
<circle cx="1764.1" cy="200.1" r="3.5" fill="#000"/>
<circle cx="1768.7" cy="201.5" r="3.5" fill="#0f0"/>
<circle cx="1775.9" cy="201.3" r="3.5" fill="#000"/>
<circle cx="1779.2" cy="203.6" r="3.5" fill="#000"/>
<circle cx="1759.6" cy="211.0" r="3.5" fill="#0f0"/>
<circle cx="1773.0" cy="209.9" r="3.5" fill="#0f0"/>
<circle cx="1772.3" cy="214.4" r="3.5" fill="#0f0"/>
<circle cx="1779.0" cy="210.5" r="3.5" fill="#000"/>
<circle cx="1853.0" cy="205.1" r="3.5" fill="#000"/>
<circle cx="1828.9" cy="206.9" r="3.5" fill="#0f0"/>
<circle cx="1828.2" cy="211.9" r="3.5" fill="#0f0"/>
<circle cx="1824.3" cy="218.2" r="3.5" fill="#0f0"/>
<circle cx="1810.8" cy="220.4" r="3.5" fill="#0f0"/>
<circle cx="1793.6" cy="222.2" r="3.5" fill="#0f0"/>
<circle cx="1794.1" cy="224.9" r="3.5" fill="#000"/>
<circle cx="1818.4" cy="228.4" r="3.5" fill="#0f0"/>
<circle cx="1668.6" cy="224.3" r="3.5" fill="#000"/>
<circle cx="1732.4" cy="223.7" r="3.5" fill="#000"/>
<circle cx="1688.1" cy="229.3" r="3.5" fill="#000"/>
<circle cx="1753.1" cy="232.2" r="3.5" fill="#0f0"/>
<circle cx="1775.2" cy="232.7" r="3.5" fill="#000"/>
<circle cx="1697.0" cy="237.6" r="3.5" fill="#000"/>
<circle cx="1706.4" cy="238.9" r="3.5" fill="#000"/>
<circle cx="1668.7" cy="241.7" r="3.5" fill="#000"/>
<circle cx="1778.8" cy="241.6" r="3.5" fill="#000"/>
<circle cx="1742.8" cy="242.2" r="3.5" fill="#0f0"/>
<circle cx="1744.1" cy="248.2" r="3.5" fill="#000"/>
<circle cx="1800.7" cy="245.0" r="3.5" fill="#0f0"/>
<circle cx="1796.8" cy="247.3" r="3.5" fill="#0f0"/>
<circle cx="1797.5" cy="251.4" r="3.5" fill="#0f0"/>
<circle cx="1682.1" cy="248.9" r="3.5" fill="#000"/>
<circle cx="1671.5" cy="256.3" r="3.5" fill="#000"/>
<circle cx="1684.2" cy="256.1" r="3.5" fill="#0f0"/>
<circle cx="1694.9" cy="256.8" r="3.5" fill="#0f0"/>
<circle cx="1758.9" cy="254.5" r="3.5" fill="#0f0"/>
<circle cx="1858.1" cy="260.4" r="3.5" fill="#000"/>
<circle cx="1705.4" cy="263.7" r="3.5" fill="#000"/>
<circle cx="1687.8" cy="267.1" r="3.5" fill="#000"/>
<circle cx="1697.0" cy="269.8" r="3.5" fill="#000"/>
<circle cx="1730.8" cy="262.8" r="3.5" fill="#0f0"/>
<circle cx="1753.1" cy="264.4" r="3.5" fill="#f00"/>
<circle cx="1771.1" cy="262.2" r="3.5" fill="#f00"/>
<circle cx="1784.9" cy="266.4" r="3.5" fill="#0f0"/>
<circle cx="1727.9" cy="272.3" r="3.5" fill="#000"/>
<circle cx="1705.5" cy="275.9" r="3.5" fill="#000"/>
<circle cx="1701.2" cy="281.1" r="3.5" fill="#000"/>
<circle cx="1779.9" cy="278.9" r="3.5" fill="#0f0"/>
<circle cx="1849.8" cy="276.2" r="3.5" fill="#0f0"/>
<circle cx="1688.2" cy="284.5" r="3.5" fill="#f00"/>
<circle cx="1722.2" cy="290.3" r="3.5" fill="#000"/>
<circle cx="1747.0" cy="288.3" r="3.5" fill="#0f0"/>
<circle cx="1745.7" cy="295.8" r="3.5" fill="#0f0"/>
<circle cx="1744.5" cy="300.7" r="3.5" fill="#0f0"/>
<circle cx="1672.2" cy="296.4" r="3.5" fill="#000"/>
<circle cx="1709.9" cy="297.5" r="3.5" fill="#f00"/>
<circle cx="1727.6" cy="298.1" r="3.5" fill="#f00"/>
<circle cx="1801.3" cy="301.6" r="3.5" fill="#0f0"/>
<circle cx="1697.0" cy="306.4" r="3.5" fill="#000"/>
<circle cx="1756.2" cy="308.4" r="3.5" fill="#000"/>
<circle cx="1665.4" cy="310.1" r="3.5" fill="#0f0"/>
<circle cx="1711.1" cy="312.2" r="3.5" fill="#0f0"/>
<circle cx="1807.6" cy="312.7" r="3.5" fill="#f00"/>
<circle cx="1671.5" cy="323.7" r="3.5" fill="#000"/>
<circle cx="1679.1" cy="321.1" r="3.5" fill="#000"/>
<circle cx="1675.3" cy="327.1" r="3.5" fill="#f00"/>
<circle cx="1682.3" cy="332.5" r="3.5" fill="#000"/>
<circle cx="1726.7" cy="327.3" r="3.5" fill="#0f0"/>
<circle cx="1768.8" cy="324.6" r="3.5" fill="#0f0"/>
<circle cx="1749.5" cy="332.8" r="3.5" fill="#0f0"/>
<circle cx="1754.5" cy="337.7" r="3.5" fill="#000"/>
<circle cx="1818.0" cy="325.3" r="3.5" fill="#f00"/>
<circle cx="1827.0" cy="322.9" r="3.5" fill="#f00"/>
<circle cx="1802.2" cy="330.7" r="3.5" fill="#0f0"/>
<circle cx="1812.6" cy="331.3" r="3.5" fill="#0f0"/>
<circle cx="1696.3" cy="347.1" r="3.5" fill="#f00"/>
<circle cx="1703.6" cy="348.6" r="3.5" fill="#000"/>
<circle cx="1671.3" cy="356.4" r="3.5" fill="#000"/>
<circle cx="1735.3" cy="348.0" r="3.5" fill="#0f0"/>
<circle cx="1751.8" cy="347.6" r="3.5" fill="#000"/>
<circle cx="1771.1" cy="347.6" r="3.5" fill="#0f0"/>
<circle cx="1754.5" cy="358.0" r="3.5" fill="#f00"/>
<circle cx="1687.5" cy="359.4" r="3.5" fill="#0f0"/>
<circle cx="1697.2" cy="360.3" r="3.5" fill="#0f0"/>
<circle cx="1708.5" cy="360.9" r="3.5" fill="#0f0"/>
<circle cx="1695.8" cy="366.9" r="3.5" fill="#0f0"/>
<circle cx="1668.6" cy="370.1" r="3.5" fill="#000"/>
<circle cx="1827.3" cy="355.2" r="3.5" fill="#0f0"/>
<circle cx="1832.0" cy="360.6" r="3.5" fill="#000"/>
<circle cx="1804.5" cy="375.1" r="3.5" fill="#000"/>
<circle cx="1847.6" cy="378.7" r="3.5" fill="#0f0"/>
<circle cx="1686.6" cy="378.5" r="3.5" fill="#000"/>
<circle cx="1736.2" cy="383.7" r="3.5" fill="#0f0"/>
<circle cx="1732.9" cy="399.2" r="3.5" fill="#0f0"/>
<circle cx="1849.8" cy="406.9" r="3.5" fill="#f00"/>
<circle cx="1681.2" cy="417.1" r="3.5" fill="#f00"/>
<circle cx="1685.2" cy="415.9" r="3.5" fill="#f00"/>
<circle cx="1845.3" cy="433.7" r="3.5" fill="#f00"/>
<circle cx="1857.7" cy="440.2" r="3.5" fill="#f00"/>
<circle cx="1683.0" cy="464.6" r="3.5" fill="#f00"/>
<circle cx="1669.3" cy="473.9" r="3.5" fill="#f00"/>
<circle cx="1726.3" cy="471.8" r="3.5" fill="#f00"/>
<circle cx="1736.0" cy="472.7" r="3.5" fill="#f00"/>
<circle cx="1668.1" cy="481.3" r="3.5" fill="#f00"/>
<circle cx="1698.6" cy="481.3" r="3.5" fill="#f00"/>
<circle cx="1690.8" cy="485.6" r="3.5" fill="#f00"/>
<circle cx="1674.6" cy="487.0" r="3.5" fill="#f00"/>
<circle cx="1668.4" cy="489.4" r="3.5" fill="#f00"/>
<circle cx="1681.8" cy="489.6" r="3.5" fill="#f00"/>
<circle cx="1746.6" cy="487.1" r="3.5" fill="#f00"/>
<circle cx="1715.0" cy="490.6" r="3.5" fill="#f00"/>
<circle cx="1816.6" cy="489.7" r="3.5" fill="#f00"/>
<circle cx="1728.3" cy="496.3" r="3.5" fill="#f00"/>
<circle cx="1674.0" cy="500.8" r="3.5" fill="#f00"/>
<circle cx="1689.6" cy="499.9" r="3.5" fill="#f00"/>
<circle cx="1704.4" cy="499.3" r="3.5" fill="#f00"/>
<circle cx="1740.7" cy="502.6" r="3.5" fill="#f00"/>
<circle cx="1856.1" cy="500.5" r="3.5" fill="#f00"/>
<circle cx="1699.7" cy="504.9" r="3.5" fill="#0f0"/>
<circle cx="1686.9" cy="507.0" r="3.5" fill="#f00"/>
<circle cx="1716.5" cy="505.6" r="3.5" fill="#f00"/>
<circle cx="1699.7" cy="511.5" r="3.5" fill="#f00"/>
<circle cx="1703.7" cy="512.2" r="3.5" fill="#f00"/>
<circle cx="1720.0" cy="512.1" r="3.5" fill="#f00"/>
<circle cx="1691.1" cy="517.8" r="3.5" fill="#f00"/>
<circle cx="1687.8" cy="522.6" r="3.5" fill="#f00"/>
<circle cx="1697.7" cy="521.0" r="3.5" fill="#f00"/>
<circle cx="1703.9" cy="524.1" r="3.5" fill="#f00"/>
<circle cx="1714.1" cy="523.7" r="3.5" fill="#f00"/>
<circle cx="1902.0" cy="125.5" r="3.5" fill="#0f0"/>
<circle cx="1924.5" cy="130.0" r="3.5" fill="#0f0"/>
<circle cx="1916.9" cy="146.6" r="3.5" fill="#000"/>
<circle cx="1934.1" cy="146.1" r="3.5" fill="#000"/>
<circle cx="1895.3" cy="168.6" r="3.5" fill="#0f0"/>
<circle cx="1892.7" cy="190.0" r="3.5" fill="#f00"/>
<circle cx="1921.8" cy="212.5" r="3.5" fill="#000"/>
<circle cx="1895.3" cy="300.7" r="3.5" fill="#000"/>
</g>
<g id="pc">
<line x1="515.44" y1="1170.94" x2="157.54" y2="1132.24" class="g"/>
<line x1="383.72" y1="1172.36" x2="684.42" y2="1126.56" class="g"/>
<line x1="575.58" y1="1161.78" x2="217.68" y2="1123.08" class="g"/>
<line x1="312.14" y1="1164.62" x2="612.84" y2="1118.82" class="g"/>
<line x1="635.72" y1="1152.62" x2="277.82" y2="1113.92" class="g"/>
<line x1="240.56" y1="1156.88" x2="541.26" y2="1111.08" class="g"/>
<line x1="695.86" y1="1143.46" x2="337.96" y2="1104.76" class="g"/>
<line x1="168.98" y1="1149.14" x2="469.68" y2="1103.34" class="g"/>
<line x1="756" y1="1134.3" x2="398.1" y2="1095.6" class="g"/>
<line x1="97.4" y1="1141.4" x2="398.1" y2="1095.6" class="g"/>
<line x1="157.54" y1="1132.24" x2="157.54" y2="702.34" class="g"/>
<line x1="217.68" y1="1123.08" x2="217.68" y2="693.18" class="g"/>
<line x1="277.82" y1="1113.92" x2="277.82" y2="684.02" class="g"/>
<line x1="337.96" y1="1104.76" x2="337.96" y2="674.86" class="g"/>
<line x1="398.1" y1="1095.6" x2="398.1" y2="665.7" class="g"/>
<line x1="97.4" y1="1141.4" x2="398.1" y2="1095.6" class="g"/>
<line x1="97.4" y1="1098.41" x2="398.1" y2="1052.61" class="g"/>
<line x1="97.4" y1="1055.42" x2="398.1" y2="1009.62" class="g"/>
<line x1="97.4" y1="1012.43" x2="398.1" y2="966.63" class="g"/>
<line x1="97.4" y1="969.44" x2="398.1" y2="923.64" class="g"/>
<line x1="97.4" y1="926.45" x2="398.1" y2="880.65" class="g"/>
<line x1="97.4" y1="883.46" x2="398.1" y2="837.66" class="g"/>
<line x1="97.4" y1="840.47" x2="398.1" y2="794.67" class="g"/>
<line x1="97.4" y1="797.48" x2="398.1" y2="751.68" class="g"/>
<line x1="97.4" y1="754.49" x2="398.1" y2="708.69" class="g"/>
<line x1="97.4" y1="711.5" x2="398.1" y2="665.7" class="g"/>
<line x1="756" y1="1134.3" x2="756" y2="704.4" class="g"/>
<line x1="684.42" y1="1126.56" x2="684.42" y2="696.66" class="g"/>
<line x1="612.84" y1="1118.82" x2="612.84" y2="688.92" class="g"/>
<line x1="541.26" y1="1111.08" x2="541.26" y2="681.18" class="g"/>
<line x1="469.68" y1="1103.34" x2="469.68" y2="673.44" class="g"/>
<line x1="398.1" y1="1095.6" x2="398.1" y2="665.7" class="g"/>
<line x1="756" y1="1134.3" x2="398.1" y2="1095.6" class="g"/>
<line x1="756" y1="1091.31" x2="398.1" y2="1052.61" class="g"/>
<line x1="756" y1="1048.32" x2="398.1" y2="1009.62" class="g"/>
<line x1="756" y1="1005.33" x2="398.1" y2="966.63" class="g"/>
<line x1="756" y1="962.34" x2="398.1" y2="923.64" class="g"/>
<line x1="756" y1="919.35" x2="398.1" y2="880.65" class="g"/>
<line x1="756" y1="876.36" x2="398.1" y2="837.66" class="g"/>
<line x1="756" y1="833.37" x2="398.1" y2="794.67" class="g"/>
<line x1="756" y1="790.38" x2="398.1" y2="751.68" class="g"/>
<line x1="756" y1="747.39" x2="398.1" y2="708.69" class="g"/>
<line x1="756" y1="704.4" x2="398.1" y2="665.7" class="g"/>
<line x1="455.3" y1="1180.1" x2="97.4" y2="1141.4" class="a"/>
<line x1="455.3" y1="1180.1" x2="756" y2="1134.3" class="a"/>
<line x1="97.4" y1="1141.4" x2="97.4" y2="711.5" class="a"/>
<line x1="97.4" y1="1141.4" x2="86.46" y2="1140.22" class="a"/>
<line x1="97.4" y1="1098.41" x2="86.46" y2="1097.23" class="a"/>
<line x1="97.4" y1="1055.42" x2="86.46" y2="1054.24" class="a"/>
<line x1="97.4" y1="1012.43" x2="86.46" y2="1011.25" class="a"/>
<line x1="97.4" y1="969.44" x2="86.46" y2="968.26" class="a"/>
<line x1="97.4" y1="926.45" x2="86.46" y2="925.27" class="a"/>
<line x1="97.4" y1="883.46" x2="86.46" y2="882.28" class="a"/>
<line x1="97.4" y1="840.47" x2="86.46" y2="839.29" class="a"/>
<line x1="97.4" y1="797.48" x2="86.46" y2="796.3" class="a"/>
<line x1="97.4" y1="754.49" x2="86.46" y2="753.31" class="a"/>
<line x1="97.4" y1="711.5" x2="86.46" y2="710.32" class="a"/>
<line x1="455.3" y1="1180.1" x2="455.3" y2="1191.1" class="a"/>
<line x1="455.3" y1="1180.1" x2="455.3" y2="1191.1" class="a"/>
<line x1="515.44" y1="1170.94" x2="515.44" y2="1181.94" class="a"/>
<line x1="383.72" y1="1172.36" x2="383.72" y2="1183.36" class="a"/>
<line x1="575.58" y1="1161.78" x2="575.58" y2="1172.78" class="a"/>
<line x1="312.14" y1="1164.62" x2="312.14" y2="1175.62" class="a"/>
<line x1="635.72" y1="1152.62" x2="635.72" y2="1163.62" class="a"/>
<line x1="240.56" y1="1156.88" x2="240.56" y2="1167.88" class="a"/>
<line x1="695.86" y1="1143.46" x2="695.86" y2="1154.46" class="a"/>
<line x1="168.98" y1="1149.14" x2="168.98" y2="1160.14" class="a"/>
<line x1="756" y1="1134.3" x2="756" y2="1145.3" class="a"/>
<line x1="97.4" y1="1141.4" x2="97.4" y2="1152.4" class="a"/>
<text x="78.9" y="1145.9" class="tz">0</text>
<text x="78.9" y="1102.91" class="tz">0.1</text>
<text x="78.9" y="1059.92" class="tz">0.2</text>
<text x="78.9" y="1016.93" class="tz">0.3</text>
<text x="78.9" y="973.94" class="tz">0.4</text>
<text x="78.9" y="930.95" class="tz">0.5</text>
<text x="78.9" y="887.96" class="tz">0.6</text>
<text x="78.9" y="844.97" class="tz">0.7</text>
<text x="78.9" y="801.98" class="tz">0.8</text>
<text x="78.9" y="758.99" class="tz">0.9</text>
<text x="78.9" y="716" class="tz">1</text>
<text x="454.3" y="1216.3" class="tz">0</text>
<text x="455.8" y="1215.6" class="t1">0</text>
<text x="382.72" y="1208.56" class="tz">0.2</text>
<text x="515.94" y="1206.44" class="t1">0.2</text>
<text x="311.14" y="1200.82" class="tz">0.4</text>
<text x="576.08" y="1197.28" class="t1">0.4</text>
<text x="239.56" y="1193.08" class="tz">0.6</text>
<text x="636.22" y="1188.12" class="t1">0.6</text>
<text x="167.98" y="1185.34" class="tz">0.8</text>
<text x="696.36" y="1178.96" class="t1">0.8</text>
<text x="96.4" y="1177.6" class="tz">1</text>
<text x="756.5" y="1169.8" class="t1">1</text>
<circle cx="430.4" cy="721.6" r="3.5" fill="#00f"/>
<circle cx="391.5" cy="731.2" r="3.5" fill="#000"/>
<circle cx="406.2" cy="757.1" r="3.5" fill="#00f"/>
<circle cx="430.4" cy="761.2" r="3.5" fill="#000"/>
<circle cx="433.5" cy="772.9" r="3.5" fill="#00f"/>
<circle cx="427.9" cy="781.9" r="3.5" fill="#000"/>
<circle cx="387.4" cy="796.5" r="3.5" fill="#00f"/>
<circle cx="377.7" cy="799.0" r="3.5" fill="#000"/>
<circle cx="326.9" cy="803.1" r="3.5" fill="#000"/>
<circle cx="430.4" cy="796.7" r="3.5" fill="#00f"/>
<circle cx="428.7" cy="806.5" r="3.5" fill="#000"/>
<circle cx="399.7" cy="821.7" r="3.5" fill="#000"/>
<circle cx="379.0" cy="824.4" r="3.5" fill="#000"/>
<circle cx="364.2" cy="828.4" r="3.5" fill="#00f"/>
<circle cx="356.2" cy="831.8" r="3.5" fill="#000"/>
<circle cx="384.1" cy="830.5" r="3.5" fill="#00f"/>
<circle cx="383.0" cy="832.8" r="3.5" fill="#00f"/>
<circle cx="413.3" cy="822.6" r="3.5" fill="#00f"/>
<circle cx="409.2" cy="825.4" r="3.5" fill="#00f"/>
<circle cx="430.4" cy="821.7" r="3.5" fill="#000"/>
<circle cx="372.3" cy="844.4" r="3.5" fill="#00f"/>
<circle cx="363.1" cy="848.8" r="3.5" fill="#00f"/>
<circle cx="395.3" cy="845.7" r="3.5" fill="#00f"/>
<circle cx="393.6" cy="848.8" r="3.5" fill="#000"/>
<circle cx="396.3" cy="850.1" r="3.5" fill="#00f"/>
<circle cx="418.1" cy="850.1" r="3.5" fill="#000"/>
<circle cx="409.4" cy="855.5" r="3.5" fill="#00f"/>
<circle cx="413.0" cy="859.4" r="3.5" fill="#000"/>
<circle cx="431.4" cy="856.2" r="3.5" fill="#00f"/>
<circle cx="389.5" cy="856.5" r="3.5" fill="#000"/>
<circle cx="329.8" cy="860.1" r="3.5" fill="#000"/>
<circle cx="339.8" cy="864.0" r="3.5" fill="#00f"/>
<circle cx="356.2" cy="862.8" r="3.5" fill="#000"/>
<circle cx="327.1" cy="868.3" r="3.5" fill="#000"/>
<circle cx="335.2" cy="874.7" r="3.5" fill="#000"/>
<circle cx="391.2" cy="871.3" r="3.5" fill="#00f"/>
<circle cx="389.5" cy="875.7" r="3.5" fill="#000"/>
<circle cx="398.2" cy="875.1" r="3.5" fill="#00f"/>
<circle cx="405.5" cy="875.9" r="3.5" fill="#000"/>
<circle cx="418.1" cy="869.1" r="3.5" fill="#000"/>
<circle cx="416.1" cy="870.3" r="3.5" fill="#00f"/>
<circle cx="413.5" cy="872.9" r="3.5" fill="#00f"/>
<circle cx="423.2" cy="875.4" r="3.5" fill="#00f"/>
<circle cx="429.4" cy="874.1" r="3.5" fill="#00f"/>
<circle cx="431.4" cy="877.0" r="3.5" fill="#000"/>
<circle cx="345.2" cy="884.6" r="3.5" fill="#000"/>
<circle cx="369.2" cy="887.2" r="3.5" fill="#000"/>
<circle cx="421.2" cy="885.1" r="3.5" fill="#000"/>
<circle cx="356.9" cy="894.6" r="3.5" fill="#00f"/>
<circle cx="376.0" cy="899.2" r="3.5" fill="#00f"/>
<circle cx="395.3" cy="890.8" r="3.5" fill="#00f"/>
<circle cx="400.2" cy="895.7" r="3.5" fill="#00f"/>
<circle cx="419.5" cy="896.7" r="3.5" fill="#00f"/>
<circle cx="394.8" cy="904.9" r="3.5" fill="#000"/>
<circle cx="361.6" cy="906.3" r="3.5" fill="#000"/>
<circle cx="342.9" cy="912.5" r="3.5" fill="#000"/>
<circle cx="354.9" cy="911.2" r="3.5" fill="#00f"/>
<circle cx="354.9" cy="914.8" r="3.5" fill="#00f"/>
<circle cx="360.8" cy="913.8" r="3.5" fill="#000"/>
<circle cx="363.1" cy="915.8" r="3.5" fill="#00f"/>
<circle cx="376.7" cy="909.7" r="3.5" fill="#00f"/>
<circle cx="382.5" cy="911.2" r="3.5" fill="#000"/>
<circle cx="385.2" cy="916.6" r="3.5" fill="#00f"/>
<circle cx="407.1" cy="910.2" r="3.5" fill="#000"/>
<circle cx="403.1" cy="916.7" r="3.5" fill="#00f"/>
<circle cx="400.2" cy="920.2" r="3.5" fill="#00f"/>
<circle cx="398.5" cy="924.5" r="3.5" fill="#00f"/>
<circle cx="402.5" cy="925.3" r="3.5" fill="#000"/>
<circle cx="427.6" cy="914.8" r="3.5" fill="#00f"/>
<circle cx="421.7" cy="917.2" r="3.5" fill="#00f"/>
<circle cx="418.1" cy="919.9" r="3.5" fill="#00f"/>
<circle cx="417.1" cy="926.1" r="3.5" fill="#00f"/>
<circle cx="429.6" cy="924.5" r="3.5" fill="#00f"/>
<circle cx="421.7" cy="929.1" r="3.5" fill="#000"/>
<circle cx="412.2" cy="931.4" r="3.5" fill="#00f"/>
<circle cx="392.5" cy="929.9" r="3.5" fill="#000"/>
<circle cx="389.8" cy="936.3" r="3.5" fill="#000"/>
<circle cx="401.8" cy="938.9" r="3.5" fill="#000"/>
<circle cx="351.8" cy="924.7" r="3.5" fill="#00f"/>
<circle cx="330.3" cy="935.5" r="3.5" fill="#000"/>
<circle cx="225.5" cy="931.2" r="3.5" fill="#000"/>
<circle cx="252.4" cy="933.4" r="3.5" fill="#000"/>
<circle cx="278.7" cy="928.6" r="3.5" fill="#000"/>
<circle cx="361.1" cy="944.0" r="3.5" fill="#00f"/>
<circle cx="321.6" cy="949.9" r="3.5" fill="#00f"/>
<circle cx="345.8" cy="952.7" r="3.5" fill="#00f"/>
<circle cx="389.0" cy="947.1" r="3.5" fill="#000"/>
<circle cx="384.1" cy="955.2" r="3.5" fill="#00f"/>
<circle cx="399.2" cy="952.7" r="3.5" fill="#00f"/>
<circle cx="404.1" cy="960.4" r="3.5" fill="#00f"/>
<circle cx="421.2" cy="959.1" r="3.5" fill="#000"/>
<circle cx="428.7" cy="956.1" r="3.5" fill="#000"/>
<circle cx="437.6" cy="855.7" r="3.5" fill="#000"/>
<circle cx="437.6" cy="897.1" r="3.5" fill="#000"/>
<circle cx="431.9" cy="968.7" r="3.5" fill="#000"/>
<circle cx="400.4" cy="972.3" r="3.5" fill="#00f"/>
<circle cx="405.5" cy="973.3" r="3.5" fill="#00f"/>
<circle cx="407.4" cy="978.9" r="3.5" fill="#00f"/>
<circle cx="414.3" cy="972.5" r="3.5" fill="#000"/>
<circle cx="319.6" cy="980.8" r="3.5" fill="#000"/>
<circle cx="329.8" cy="986.3" r="3.5" fill="#000"/>
<circle cx="385.6" cy="984.6" r="3.5" fill="#000"/>
<circle cx="411.3" cy="989.0" r="3.5" fill="#000"/>
<circle cx="420.9" cy="994.8" r="3.5" fill="#000"/>
<circle cx="372.6" cy="994.5" r="3.5" fill="#000"/>
<circle cx="334.4" cy="1002.3" r="3.5" fill="#000"/>
<circle cx="363.9" cy="1001.1" r="3.5" fill="#00f"/>
<circle cx="386.1" cy="1001.8" r="3.5" fill="#00f"/>
<circle cx="409.9" cy="1001.6" r="3.5" fill="#000"/>
<circle cx="427.0" cy="1003.2" r="3.5" fill="#00f"/>
<circle cx="381.3" cy="1011.2" r="3.5" fill="#00f"/>
<circle cx="400.4" cy="1012.5" r="3.5" fill="#00f"/>
<circle cx="418.3" cy="1009.6" r="3.5" fill="#000"/>
<circle cx="349.9" cy="1017.8" r="3.5" fill="#00f"/>
<circle cx="355.0" cy="1023.1" r="3.5" fill="#00f"/>
<circle cx="378.7" cy="1024.5" r="3.5" fill="#000"/>
<circle cx="413.5" cy="1017.8" r="3.5" fill="#00f"/>
<circle cx="409.2" cy="1020.6" r="3.5" fill="#00f"/>
<circle cx="429.6" cy="1019.4" r="3.5" fill="#00f"/>
<circle cx="436.2" cy="1019.0" r="3.5" fill="#000"/>
<circle cx="406.2" cy="1030.9" r="3.5" fill="#00f"/>
<circle cx="436.3" cy="1032.3" r="3.5" fill="#00f"/>
<circle cx="336.8" cy="1037.8" r="3.5" fill="#00f"/>
<circle cx="355.0" cy="1043.1" r="3.5" fill="#00f"/>
<circle cx="413.5" cy="1042.7" r="3.5" fill="#00f"/>
<circle cx="402.3" cy="1048.8" r="3.5" fill="#00f"/>
<circle cx="406.9" cy="1065.9" r="3.5" fill="#00f"/>
<circle cx="457.7" cy="750.4" r="3.5" fill="#00f"/>
<circle cx="476.0" cy="749.9" r="3.5" fill="#000"/>
<circle cx="541.2" cy="761.9" r="3.5" fill="#00f"/>
<circle cx="537.4" cy="767.3" r="3.5" fill="#000"/>
<circle cx="519.4" cy="778.4" r="3.5" fill="#000"/>
<circle cx="666.5" cy="765.0" r="3.5" fill="#000"/>
<circle cx="683.7" cy="764.5" r="3.5" fill="#000"/>
<circle cx="441.6" cy="797.5" r="3.5" fill="#00f"/>
<circle cx="445.1" cy="794.6" r="3.5" fill="#000"/>
<circle cx="458.1" cy="799.7" r="3.5" fill="#000"/>
<circle cx="497.8" cy="796.7" r="3.5" fill="#00f"/>
<circle cx="504.9" cy="796.2" r="3.5" fill="#00f"/>
<circle cx="608.5" cy="800.5" r="3.5" fill="#00f"/>
<circle cx="614.9" cy="799.4" r="3.5" fill="#00f"/>
<circle cx="476.0" cy="815.9" r="3.5" fill="#00f"/>
<circle cx="498.0" cy="816.6" r="3.5" fill="#00f"/>
<circle cx="523.0" cy="813.2" r="3.5" fill="#00f"/>
<circle cx="585.4" cy="819.4" r="3.5" fill="#000"/>
<circle cx="513.8" cy="823.6" r="3.5" fill="#000"/>
<circle cx="516.9" cy="824.6" r="3.5" fill="#000"/>
<circle cx="525.3" cy="824.9" r="3.5" fill="#000"/>
<circle cx="528.9" cy="827.4" r="3.5" fill="#000"/>
<circle cx="528.7" cy="834.7" r="3.5" fill="#000"/>
<circle cx="561.3" cy="829.2" r="3.5" fill="#00f"/>
<circle cx="543.8" cy="832.4" r="3.5" fill="#00f"/>
<circle cx="602.8" cy="829.0" r="3.5" fill="#000"/>
<circle cx="671.5" cy="837.2" r="3.5" fill="#000"/>
<circle cx="442.4" cy="829.7" r="3.5" fill="#00f"/>
<circle cx="450.2" cy="828.1" r="3.5" fill="#000"/>
<circle cx="476.8" cy="835.1" r="3.5" fill="#000"/>
<circle cx="475.8" cy="845.6" r="3.5" fill="#00f"/>
<circle cx="482.1" cy="849.6" r="3.5" fill="#000"/>
<circle cx="464.6" cy="851.8" r="3.5" fill="#00f"/>
<circle cx="555.3" cy="845.1" r="3.5" fill="#00f"/>
<circle cx="543.6" cy="850.4" r="3.5" fill="#000"/>
<circle cx="524.9" cy="859.3" r="3.5" fill="#000"/>
<circle cx="528.3" cy="869.1" r="3.5" fill="#000"/>
<circle cx="493.9" cy="876.0" r="3.5" fill="#000"/>
<circle cx="602.6" cy="861.1" r="3.5" fill="#00f"/>
<circle cx="611.7" cy="881.3" r="3.5" fill="#00f"/>
<circle cx="607.6" cy="889.6" r="3.5" fill="#000"/>
<circle cx="442.4" cy="866.1" r="3.5" fill="#00f"/>
<circle cx="446.7" cy="864.6" r="3.5" fill="#000"/>
<circle cx="456.1" cy="865.9" r="3.5" fill="#000"/>
<circle cx="454.9" cy="893.2" r="3.5" fill="#000"/>
<circle cx="446.9" cy="900.1" r="3.5" fill="#00f"/>
<circle cx="455.0" cy="906.5" r="3.5" fill="#000"/>
<circle cx="451.0" cy="912.4" r="3.5" fill="#000"/>
<circle cx="466.7" cy="907.6" r="3.5" fill="#00f"/>
<circle cx="477.6" cy="902.6" r="3.5" fill="#000"/>
<circle cx="577.3" cy="902.4" r="3.5" fill="#00f"/>
<circle cx="463.7" cy="923.3" r="3.5" fill="#00f"/>
<circle cx="471.9" cy="922.5" r="3.5" fill="#000"/>
<circle cx="446.7" cy="940.0" r="3.5" fill="#000"/>
<circle cx="505.8" cy="942.3" r="3.5" fill="#000"/>
<circle cx="644.9" cy="934.0" r="3.5" fill="#000"/>
<circle cx="442.4" cy="959.8" r="3.5" fill="#00f"/>
<circle cx="634.8" cy="970.1" r="3.5" fill="#000"/>
<circle cx="645.5" cy="981.0" r="3.5" fill="#000"/>
<circle cx="504.2" cy="974.4" r="3.5" fill="#000"/>
<circle cx="458.9" cy="977.0" r="3.5" fill="#00f"/>
<circle cx="453.1" cy="986.3" r="3.5" fill="#000"/>
<circle cx="501.5" cy="985.2" r="3.5" fill="#000"/>
<circle cx="448.6" cy="1001.0" r="3.5" fill="#00f"/>
<circle cx="581.6" cy="999.6" r="3.5" fill="#000"/>
<circle cx="554.2" cy="1015.3" r="3.5" fill="#000"/>
<circle cx="485.0" cy="1024.7" r="3.5" fill="#00f"/>
<circle cx="538.2" cy="1031.5" r="3.5" fill="#00f"/>
<circle cx="600.8" cy="1033.4" r="3.5" fill="#00f"/>
<circle cx="617.8" cy="1039.3" r="3.5" fill="#00f"/>
<circle cx="646.3" cy="1052.9" r="3.5" fill="#000"/>
</g>
<g id="pd">
<line x1="1333.84" y1="1170.94" x2="975.94" y2="1132.24" class="g"/>
<line x1="1202.12" y1="1172.36" x2="1502.82" y2="1126.56" class="g"/>
<line x1="1393.98" y1="1161.78" x2="1036.08" y2="1123.08" class="g"/>
<line x1="1130.54" y1="1164.62" x2="1431.24" y2="1118.82" class="g"/>
<line x1="1454.12" y1="1152.62" x2="1096.22" y2="1113.92" class="g"/>
<line x1="1058.96" y1="1156.88" x2="1359.66" y2="1111.08" class="g"/>
<line x1="1514.26" y1="1143.46" x2="1156.36" y2="1104.76" class="g"/>
<line x1="987.38" y1="1149.14" x2="1288.08" y2="1103.34" class="g"/>
<line x1="1574.4" y1="1134.3" x2="1216.5" y2="1095.6" class="g"/>
<line x1="915.8" y1="1141.4" x2="1216.5" y2="1095.6" class="g"/>
<line x1="975.94" y1="1132.24" x2="975.94" y2="702.34" class="g"/>
<line x1="1036.08" y1="1123.08" x2="1036.08" y2="693.18" class="g"/>
<line x1="1096.22" y1="1113.92" x2="1096.22" y2="684.02" class="g"/>
<line x1="1156.36" y1="1104.76" x2="1156.36" y2="674.86" class="g"/>
<line x1="1216.5" y1="1095.6" x2="1216.5" y2="665.7" class="g"/>
<line x1="915.8" y1="1141.4" x2="1216.5" y2="1095.6" class="g"/>
<line x1="915.8" y1="1098.41" x2="1216.5" y2="1052.61" class="g"/>
<line x1="915.8" y1="1055.42" x2="1216.5" y2="1009.62" class="g"/>
<line x1="915.8" y1="1012.43" x2="1216.5" y2="966.63" class="g"/>
<line x1="915.8" y1="969.44" x2="1216.5" y2="923.64" class="g"/>
<line x1="915.8" y1="926.45" x2="1216.5" y2="880.65" class="g"/>
<line x1="915.8" y1="883.46" x2="1216.5" y2="837.66" class="g"/>
<line x1="915.8" y1="840.47" x2="1216.5" y2="794.67" class="g"/>
<line x1="915.8" y1="797.48" x2="1216.5" y2="751.68" class="g"/>
<line x1="915.8" y1="754.49" x2="1216.5" y2="708.69" class="g"/>
<line x1="915.8" y1="711.5" x2="1216.5" y2="665.7" class="g"/>
<line x1="1574.4" y1="1134.3" x2="1574.4" y2="704.4" class="g"/>
<line x1="1502.82" y1="1126.56" x2="1502.82" y2="696.66" class="g"/>
<line x1="1431.24" y1="1118.82" x2="1431.24" y2="688.92" class="g"/>
<line x1="1359.66" y1="1111.08" x2="1359.66" y2="681.18" class="g"/>
<line x1="1288.08" y1="1103.34" x2="1288.08" y2="673.44" class="g"/>
<line x1="1216.5" y1="1095.6" x2="1216.5" y2="665.7" class="g"/>
<line x1="1574.4" y1="1134.3" x2="1216.5" y2="1095.6" class="g"/>
<line x1="1574.4" y1="1091.31" x2="1216.5" y2="1052.61" class="g"/>
<line x1="1574.4" y1="1048.32" x2="1216.5" y2="1009.62" class="g"/>
<line x1="1574.4" y1="1005.33" x2="1216.5" y2="966.63" class="g"/>
<line x1="1574.4" y1="962.34" x2="1216.5" y2="923.64" class="g"/>
<line x1="1574.4" y1="919.35" x2="1216.5" y2="880.65" class="g"/>
<line x1="1574.4" y1="876.36" x2="1216.5" y2="837.66" class="g"/>
<line x1="1574.4" y1="833.37" x2="1216.5" y2="794.67" class="g"/>
<line x1="1574.4" y1="790.38" x2="1216.5" y2="751.68" class="g"/>
<line x1="1574.4" y1="747.39" x2="1216.5" y2="708.69" class="g"/>
<line x1="1574.4" y1="704.4" x2="1216.5" y2="665.7" class="g"/>
<line x1="1273.7" y1="1180.1" x2="915.8" y2="1141.4" class="a"/>
<line x1="1273.7" y1="1180.1" x2="1574.4" y2="1134.3" class="a"/>
<line x1="915.8" y1="1141.4" x2="915.8" y2="711.5" class="a"/>
<line x1="915.8" y1="1141.4" x2="904.86" y2="1140.22" class="a"/>
<line x1="915.8" y1="1098.41" x2="904.86" y2="1097.23" class="a"/>
<line x1="915.8" y1="1055.42" x2="904.86" y2="1054.24" class="a"/>
<line x1="915.8" y1="1012.43" x2="904.86" y2="1011.25" class="a"/>
<line x1="915.8" y1="969.44" x2="904.86" y2="968.26" class="a"/>
<line x1="915.8" y1="926.45" x2="904.86" y2="925.27" class="a"/>
<line x1="915.8" y1="883.46" x2="904.86" y2="882.28" class="a"/>
<line x1="915.8" y1="840.47" x2="904.86" y2="839.29" class="a"/>
<line x1="915.8" y1="797.48" x2="904.86" y2="796.3" class="a"/>
<line x1="915.8" y1="754.49" x2="904.86" y2="753.31" class="a"/>
<line x1="915.8" y1="711.5" x2="904.86" y2="710.32" class="a"/>
<line x1="1273.7" y1="1180.1" x2="1273.7" y2="1191.1" class="a"/>
<line x1="1273.7" y1="1180.1" x2="1273.7" y2="1191.1" class="a"/>
<line x1="1333.84" y1="1170.94" x2="1333.84" y2="1181.94" class="a"/>
<line x1="1202.12" y1="1172.36" x2="1202.12" y2="1183.36" class="a"/>
<line x1="1393.98" y1="1161.78" x2="1393.98" y2="1172.78" class="a"/>
<line x1="1130.54" y1="1164.62" x2="1130.54" y2="1175.62" class="a"/>
<line x1="1454.12" y1="1152.62" x2="1454.12" y2="1163.62" class="a"/>
<line x1="1058.96" y1="1156.88" x2="1058.96" y2="1167.88" class="a"/>
<line x1="1514.26" y1="1143.46" x2="1514.26" y2="1154.46" class="a"/>
<line x1="987.38" y1="1149.14" x2="987.38" y2="1160.14" class="a"/>
<line x1="1574.4" y1="1134.3" x2="1574.4" y2="1145.3" class="a"/>
<line x1="915.8" y1="1141.4" x2="915.8" y2="1152.4" class="a"/>
<text x="897.3" y="1145.9" class="tz">0</text>
<text x="897.3" y="1102.91" class="tz">0.1</text>
<text x="897.3" y="1059.92" class="tz">0.2</text>
<text x="897.3" y="1016.93" class="tz">0.3</text>
<text x="897.3" y="973.94" class="tz">0.4</text>
<text x="897.3" y="930.95" class="tz">0.5</text>
<text x="897.3" y="887.96" class="tz">0.6</text>
<text x="897.3" y="844.97" class="tz">0.7</text>
<text x="897.3" y="801.98" class="tz">0.8</text>
<text x="897.3" y="758.99" class="tz">0.9</text>
<text x="897.3" y="716" class="tz">1</text>
<text x="1272.7" y="1216.3" class="tz">0</text>
<text x="1274.2" y="1215.6" class="t1">0</text>
<text x="1201.12" y="1208.56" class="tz">0.2</text>
<text x="1334.34" y="1206.44" class="t1">0.2</text>
<text x="1129.54" y="1200.82" class="tz">0.4</text>
<text x="1394.48" y="1197.28" class="t1">0.4</text>
<text x="1057.96" y="1193.08" class="tz">0.6</text>
<text x="1454.62" y="1188.12" class="t1">0.6</text>
<text x="986.38" y="1185.34" class="tz">0.8</text>
<text x="1514.76" y="1178.96" class="t1">0.8</text>
<text x="914.8" y="1177.6" class="tz">1</text>
<text x="1574.9" y="1169.8" class="t1">1</text>
<circle cx="1236.8" cy="779.4" r="3.5" fill="#000"/>
<circle cx="1238.5" cy="834.2" r="3.5" fill="#000"/>
<circle cx="1255.0" cy="830.7" r="3.5" fill="#00f"/>
<circle cx="1161.0" cy="850.7" r="3.5" fill="#00f"/>
<circle cx="1172.9" cy="847.7" r="3.5" fill="#000"/>
<circle cx="1172.9" cy="853.9" r="3.5" fill="#000"/>
<circle cx="1187.8" cy="864.5" r="3.5" fill="#00f"/>
<circle cx="1255.0" cy="863.8" r="3.5" fill="#00f"/>
<circle cx="1090.5" cy="872.2" r="3.5" fill="#000"/>
<circle cx="1278.5" cy="1134.0" r="3.5" fill="#00f"/>
<circle cx="1286.4" cy="1137.3" r="3.5" fill="#00f"/>
<circle cx="1291.6" cy="1140.2" r="3.5" fill="#00f"/>
<circle cx="1279.2" cy="1138.6" r="3.5" fill="#00f"/>
<circle cx="1283.4" cy="1141.9" r="3.5" fill="#000"/>
<circle cx="1314.9" cy="1137.9" r="3.5" fill="#000"/>
<circle cx="1385.9" cy="1138.6" r="3.5" fill="#00f"/>
<circle cx="1384.6" cy="1141.2" r="3.5" fill="#000"/>
<circle cx="1296.9" cy="1148.4" r="3.5" fill="#000"/>
<circle cx="1292.3" cy="1148.4" r="3.5" fill="#00f"/>
<circle cx="1290.3" cy="1151.3" r="3.5" fill="#00f"/>
<circle cx="1278.5" cy="1149.7" r="3.5" fill="#00f"/>
<circle cx="1283.1" cy="1149.7" r="3.5" fill="#00f"/>
<circle cx="1309.0" cy="1155.3" r="3.5" fill="#000"/>
<circle cx="1318.8" cy="1156.1" r="3.5" fill="#00f"/>
<circle cx="1284.7" cy="1158.5" r="3.5" fill="#000"/>
<circle cx="1424.2" cy="1152.9" r="3.5" fill="#000"/>
<circle cx="1493.6" cy="1133.9" r="3.5" fill="#000"/>
<circle cx="1450.2" cy="1141.9" r="3.5" fill="#00f"/>
<circle cx="1188.5" cy="875.2" r="3.5" fill="#00f"/>
<circle cx="1209.8" cy="896.9" r="3.5" fill="#00f"/>
<circle cx="1222.0" cy="895.0" r="3.5" fill="#00f"/>
<circle cx="1248.3" cy="893.1" r="3.5" fill="#00f"/>
<circle cx="1210.5" cy="907.2" r="3.5" fill="#00f"/>
<circle cx="1165.5" cy="916.1" r="3.5" fill="#000"/>
<circle cx="1256.3" cy="916.1" r="3.5" fill="#000"/>
<circle cx="1139.2" cy="945.9" r="3.5" fill="#000"/>
<circle cx="1149.5" cy="955.7" r="3.5" fill="#000"/>
<circle cx="1177.5" cy="945.2" r="3.5" fill="#00f"/>
<circle cx="1208.9" cy="947.7" r="3.5" fill="#000"/>
<circle cx="1243.5" cy="962.6" r="3.5" fill="#000"/>
<circle cx="1179.6" cy="972.2" r="3.5" fill="#00f"/>
<circle cx="1161.0" cy="979.6" r="3.5" fill="#000"/>
<circle cx="1166.6" cy="989.9" r="3.5" fill="#00f"/>
<circle cx="1261.1" cy="975.4" r="3.5" fill="#00f"/>
<circle cx="1264.6" cy="984.7" r="3.5" fill="#000"/>
<circle cx="1030.1" cy="1009.6" r="3.5" fill="#000"/>
<circle cx="1220.6" cy="1023.9" r="3.5" fill="#00f"/>
<circle cx="1231.3" cy="1023.9" r="3.5" fill="#00f"/>
<circle cx="1158.0" cy="1031.9" r="3.5" fill="#000"/>
<circle cx="1172.5" cy="1038.8" r="3.5" fill="#000"/>
<circle cx="1116.3" cy="1041.8" r="3.5" fill="#00f"/>
<circle cx="1160.8" cy="1056.9" r="3.5" fill="#00f"/>
<circle cx="1172.5" cy="1057.2" r="3.5" fill="#000"/>
<circle cx="1186.8" cy="1058.0" r="3.5" fill="#000"/>
<circle cx="1157.5" cy="1066.3" r="3.5" fill="#000"/>
<circle cx="1248.8" cy="1061.4" r="3.5" fill="#000"/>
<circle cx="1253.6" cy="1059.9" r="3.5" fill="#000"/>
<circle cx="1255.7" cy="1061.7" r="3.5" fill="#00f"/>
<circle cx="1210.7" cy="1071.1" r="3.5" fill="#00f"/>
<circle cx="1183.6" cy="1075.0" r="3.5" fill="#000"/>
<circle cx="1229.5" cy="1078.5" r="3.5" fill="#000"/>
<circle cx="1187.3" cy="1084.1" r="3.5" fill="#00f"/>
<circle cx="1181.5" cy="1095.5" r="3.5" fill="#000"/>
<circle cx="1032.8" cy="1098.1" r="3.5" fill="#000"/>
<circle cx="1106.2" cy="1099.0" r="3.5" fill="#000"/>
<circle cx="1124.6" cy="1107.8" r="3.5" fill="#00f"/>
<circle cx="1120.8" cy="1112.0" r="3.5" fill="#000"/>
<circle cx="1137.3" cy="1109.4" r="3.5" fill="#00f"/>
<circle cx="1139.9" cy="1113.0" r="3.5" fill="#000"/>
<circle cx="1217.1" cy="1102.9" r="3.5" fill="#00f"/>
<circle cx="1254.1" cy="1107.3" r="3.5" fill="#00f"/>
<circle cx="1192.7" cy="1107.5" r="3.5" fill="#000"/>
<circle cx="1169.5" cy="1114.9" r="3.5" fill="#00f"/>
<circle cx="1215.8" cy="1114.7" r="3.5" fill="#00f"/>
<circle cx="1220.8" cy="1115.2" r="3.5" fill="#000"/>
<circle cx="1233.9" cy="1116.8" r="3.5" fill="#00f"/>
<circle cx="1250.7" cy="1113.6" r="3.5" fill="#000"/>
<circle cx="1266.9" cy="1119.0" r="3.5" fill="#00f"/>
<circle cx="1099.3" cy="1123.8" r="3.5" fill="#000"/>
<circle cx="1109.9" cy="1129.0" r="3.5" fill="#00f"/>
<circle cx="1040.5" cy="1127.2" r="3.5" fill="#000"/>
<circle cx="1143.2" cy="1122.4" r="3.5" fill="#000"/>
<circle cx="1146.1" cy="1128.5" r="3.5" fill="#000"/>
<circle cx="1181.8" cy="1122.9" r="3.5" fill="#00f"/>
<circle cx="1194.5" cy="1128.0" r="3.5" fill="#00f"/>
<circle cx="1203.8" cy="1124.0" r="3.5" fill="#000"/>
<circle cx="1237.4" cy="1123.7" r="3.5" fill="#000"/>
<circle cx="1258.9" cy="1124.5" r="3.5" fill="#00f"/>
<circle cx="1262.1" cy="1127.7" r="3.5" fill="#00f"/>
<circle cx="1222.5" cy="1128.0" r="3.5" fill="#00f"/>
<circle cx="1224.9" cy="1127.2" r="3.5" fill="#000"/>
<circle cx="1228.3" cy="1129.6" r="3.5" fill="#000"/>
<circle cx="1274.4" cy="1116.3" r="3.5" fill="#00f"/>
<circle cx="1124.5" cy="1142.1" r="3.5" fill="#000"/>
<circle cx="1164.7" cy="1146.2" r="3.5" fill="#000"/>
<circle cx="1172.9" cy="1148.2" r="3.5" fill="#000"/>
<circle cx="1179.8" cy="1135.2" r="3.5" fill="#000"/>
<circle cx="1196.3" cy="1139.4" r="3.5" fill="#000"/>
<circle cx="1236.4" cy="1131.6" r="3.5" fill="#000"/>
<circle cx="1242.9" cy="1137.9" r="3.5" fill="#000"/>
<circle cx="1236.6" cy="1140.7" r="3.5" fill="#000"/>
<circle cx="1249.9" cy="1140.7" r="3.5" fill="#000"/>
<circle cx="1259.0" cy="1136.5" r="3.5" fill="#000"/>
<circle cx="1266.4" cy="1131.6" r="3.5" fill="#000"/>
<circle cx="1270.4" cy="1135.5" r="3.5" fill="#00f"/>
<circle cx="1274.1" cy="1135.5" r="3.5" fill="#00f"/>
<circle cx="1219.8" cy="1143.4" r="3.5" fill="#00f"/>
<circle cx="1178.6" cy="1144.6" r="3.5" fill="#000"/>
<circle cx="1178.6" cy="1152.2" r="3.5" fill="#000"/>
<circle cx="1183.0" cy="1155.4" r="3.5" fill="#000"/>
<circle cx="1189.6" cy="1162.8" r="3.5" fill="#000"/>
<circle cx="1206.6" cy="1161.1" r="3.5" fill="#000"/>
<circle cx="1214.9" cy="1158.6" r="3.5" fill="#000"/>
<circle cx="1223.9" cy="1151.5" r="3.5" fill="#000"/>
<circle cx="1237.8" cy="1150.0" r="3.5" fill="#00f"/>
<circle cx="1242.2" cy="1153.2" r="3.5" fill="#000"/>
<circle cx="1244.7" cy="1150.8" r="3.5" fill="#00f"/>
<circle cx="1250.1" cy="1147.8" r="3.5" fill="#00f"/>
<circle cx="1253.5" cy="1145.9" r="3.5" fill="#00f"/>
<circle cx="1256.4" cy="1143.9" r="3.5" fill="#00f"/>
<circle cx="1257.9" cy="1152.0" r="3.5" fill="#000"/>
<circle cx="1253.0" cy="1156.2" r="3.5" fill="#00f"/>
<circle cx="1254.7" cy="1160.6" r="3.5" fill="#000"/>
<circle cx="1260.4" cy="1160.1" r="3.5" fill="#00f"/>
<circle cx="1260.1" cy="1164.0" r="3.5" fill="#00f"/>
<circle cx="1268.7" cy="1144.4" r="3.5" fill="#00f"/>
<circle cx="1270.7" cy="1142.4" r="3.5" fill="#00f"/>
<circle cx="1270.4" cy="1148.8" r="3.5" fill="#00f"/>
<circle cx="1268.2" cy="1158.1" r="3.5" fill="#00f"/>
<circle cx="1272.9" cy="1157.2" r="3.5" fill="#00f"/>
<circle cx="1271.2" cy="1165.5" r="3.5" fill="#000"/>
<circle cx="1267.7" cy="1164.5" r="3.5" fill="#000"/>
<circle cx="1250.8" cy="1167.2" r="3.5" fill="#00f"/>
<circle cx="1230.4" cy="1168.0" r="3.5" fill="#000"/>
<circle cx="1233.4" cy="1174.3" r="3.5" fill="#000"/>
<circle cx="1257.9" cy="1172.4" r="3.5" fill="#000"/>
<circle cx="1262.8" cy="1171.9" r="3.5" fill="#00f"/>
<circle cx="1265.8" cy="1169.9" r="3.5" fill="#00f"/>
<circle cx="1266.3" cy="1174.3" r="3.5" fill="#000"/>
<circle cx="1233.0" cy="1175.4" r="3.5" fill="#000"/>
<circle cx="1256.1" cy="1176.9" r="3.5" fill="#000"/>
<circle cx="1272.1" cy="1178.7" r="3.5" fill="#000"/>
<circle cx="1276.1" cy="1178.0" r="3.5" fill="#00f"/>
<circle cx="1278.3" cy="1173.6" r="3.5" fill="#00f"/>
<circle cx="1277.2" cy="1171.4" r="3.5" fill="#00f"/>
<circle cx="1282.0" cy="1178.7" r="3.5" fill="#000"/>
<circle cx="1286.1" cy="1178.7" r="3.5" fill="#00f"/>
<circle cx="1283.1" cy="1165.8" r="3.5" fill="#00f"/>
<circle cx="1288.3" cy="1165.7" r="3.5" fill="#000"/>
<circle cx="1315.5" cy="1163.3" r="3.5" fill="#00f"/>
<circle cx="1303.0" cy="754.9" r="3.5" fill="#000"/>
<circle cx="1307.5" cy="774.3" r="3.5" fill="#000"/>
<circle cx="1340.8" cy="785.8" r="3.5" fill="#000"/>
<circle cx="1276.4" cy="799.3" r="3.5" fill="#00f"/>
<circle cx="1322.7" cy="807.4" r="3.5" fill="#000"/>
<circle cx="1461.0" cy="812.9" r="3.5" fill="#000"/>
<circle cx="1321.6" cy="836.3" r="3.5" fill="#00f"/>
<circle cx="1301.4" cy="864.2" r="3.5" fill="#00f"/>
<circle cx="1323.5" cy="871.4" r="3.5" fill="#00f"/>
<circle cx="1321.4" cy="893.9" r="3.5" fill="#000"/>
<circle cx="1339.4" cy="891.6" r="3.5" fill="#000"/>
<circle cx="1295.2" cy="910.1" r="3.5" fill="#00f"/>
<circle cx="1300.9" cy="914.2" r="3.5" fill="#00f"/>
<circle cx="1286.5" cy="920.8" r="3.5" fill="#00f"/>
<circle cx="1278.0" cy="930.5" r="3.5" fill="#000"/>
<circle cx="1295.9" cy="930.9" r="3.5" fill="#000"/>
<circle cx="1419.3" cy="913.3" r="3.5" fill="#00f"/>
<circle cx="1375.9" cy="946.6" r="3.5" fill="#000"/>
<circle cx="1386.3" cy="960.8" r="3.5" fill="#000"/>
<circle cx="1395.3" cy="958.0" r="3.5" fill="#000"/>
<circle cx="1489.8" cy="974.3" r="3.5" fill="#00f"/>
<circle cx="1499.9" cy="993.7" r="3.5" fill="#000"/>
<circle cx="1322.9" cy="996.6" r="3.5" fill="#000"/>
<circle cx="1300.5" cy="1002.2" r="3.5" fill="#00f"/>
<circle cx="1333.9" cy="1030.1" r="3.5" fill="#00f"/>
<circle cx="1312.6" cy="1048.4" r="3.5" fill="#00f"/>
<circle cx="1383.9" cy="1043.1" r="3.5" fill="#00f"/>
<circle cx="1417.9" cy="1050.2" r="3.5" fill="#000"/>
<circle cx="1519.8" cy="1035.9" r="3.5" fill="#000"/>
<circle cx="1277.8" cy="1073.4" r="3.5" fill="#00f"/>
<circle cx="1311.0" cy="1079.3" r="3.5" fill="#00f"/>
<circle cx="1373.8" cy="1085.4" r="3.5" fill="#00f"/>
<circle cx="1400.1" cy="1089.9" r="3.5" fill="#00f"/>
<circle cx="1413.7" cy="1079.6" r="3.5" fill="#000"/>
<circle cx="1426.1" cy="1086.5" r="3.5" fill="#000"/>
<circle cx="1520.1" cy="1088.0" r="3.5" fill="#00f"/>
<circle cx="1294.8" cy="1097.6" r="3.5" fill="#00f"/>
<circle cx="1284.4" cy="1112.1" r="3.5" fill="#00f"/>
<circle cx="1381.5" cy="1112.6" r="3.5" fill="#00f"/>
<circle cx="1354.4" cy="1121.9" r="3.5" fill="#00f"/>
<circle cx="1294.5" cy="1121.3" r="3.5" fill="#000"/>
<circle cx="1294.8" cy="1123.2" r="3.5" fill="#00f"/>
<circle cx="1303.8" cy="1122.4" r="3.5" fill="#000"/>
<circle cx="1306.5" cy="1125.1" r="3.5" fill="#00f"/>
</g>
<g id="pe">
<line x1="2173.54" y1="1170.94" x2="1815.64" y2="1132.24" class="g"/>
<line x1="2041.82" y1="1172.36" x2="2342.52" y2="1126.56" class="g"/>
<line x1="2233.68" y1="1161.78" x2="1875.78" y2="1123.08" class="g"/>
<line x1="1970.24" y1="1164.62" x2="2270.94" y2="1118.82" class="g"/>
<line x1="2293.82" y1="1152.62" x2="1935.92" y2="1113.92" class="g"/>
<line x1="1898.66" y1="1156.88" x2="2199.36" y2="1111.08" class="g"/>
<line x1="2353.96" y1="1143.46" x2="1996.06" y2="1104.76" class="g"/>
<line x1="1827.08" y1="1149.14" x2="2127.78" y2="1103.34" class="g"/>
<line x1="2414.1" y1="1134.3" x2="2056.2" y2="1095.6" class="g"/>
<line x1="1755.5" y1="1141.4" x2="2056.2" y2="1095.6" class="g"/>
<line x1="1815.64" y1="1132.24" x2="1815.64" y2="702.34" class="g"/>
<line x1="1875.78" y1="1123.08" x2="1875.78" y2="693.18" class="g"/>
<line x1="1935.92" y1="1113.92" x2="1935.92" y2="684.02" class="g"/>
<line x1="1996.06" y1="1104.76" x2="1996.06" y2="674.86" class="g"/>
<line x1="2056.2" y1="1095.6" x2="2056.2" y2="665.7" class="g"/>
<line x1="1755.5" y1="1141.4" x2="2056.2" y2="1095.6" class="g"/>
<line x1="1755.5" y1="1098.41" x2="2056.2" y2="1052.61" class="g"/>
<line x1="1755.5" y1="1055.42" x2="2056.2" y2="1009.62" class="g"/>
<line x1="1755.5" y1="1012.43" x2="2056.2" y2="966.63" class="g"/>
<line x1="1755.5" y1="969.44" x2="2056.2" y2="923.64" class="g"/>
<line x1="1755.5" y1="926.45" x2="2056.2" y2="880.65" class="g"/>
<line x1="1755.5" y1="883.46" x2="2056.2" y2="837.66" class="g"/>
<line x1="1755.5" y1="840.47" x2="2056.2" y2="794.67" class="g"/>
<line x1="1755.5" y1="797.48" x2="2056.2" y2="751.68" class="g"/>
<line x1="1755.5" y1="754.49" x2="2056.2" y2="708.69" class="g"/>
<line x1="1755.5" y1="711.5" x2="2056.2" y2="665.7" class="g"/>
<line x1="2414.1" y1="1134.3" x2="2414.1" y2="704.4" class="g"/>
<line x1="2342.52" y1="1126.56" x2="2342.52" y2="696.66" class="g"/>
<line x1="2270.94" y1="1118.82" x2="2270.94" y2="688.92" class="g"/>
<line x1="2199.36" y1="1111.08" x2="2199.36" y2="681.18" class="g"/>
<line x1="2127.78" y1="1103.34" x2="2127.78" y2="673.44" class="g"/>
<line x1="2056.2" y1="1095.6" x2="2056.2" y2="665.7" class="g"/>
<line x1="2414.1" y1="1134.3" x2="2056.2" y2="1095.6" class="g"/>
<line x1="2414.1" y1="1091.31" x2="2056.2" y2="1052.61" class="g"/>
<line x1="2414.1" y1="1048.32" x2="2056.2" y2="1009.62" class="g"/>
<line x1="2414.1" y1="1005.33" x2="2056.2" y2="966.63" class="g"/>
<line x1="2414.1" y1="962.34" x2="2056.2" y2="923.64" class="g"/>
<line x1="2414.1" y1="919.35" x2="2056.2" y2="880.65" class="g"/>
<line x1="2414.1" y1="876.36" x2="2056.2" y2="837.66" class="g"/>
<line x1="2414.1" y1="833.37" x2="2056.2" y2="794.67" class="g"/>
<line x1="2414.1" y1="790.38" x2="2056.2" y2="751.68" class="g"/>
<line x1="2414.1" y1="747.39" x2="2056.2" y2="708.69" class="g"/>
<line x1="2414.1" y1="704.4" x2="2056.2" y2="665.7" class="g"/>
<line x1="2113.4" y1="1180.1" x2="1755.5" y2="1141.4" class="a"/>
<line x1="2113.4" y1="1180.1" x2="2414.1" y2="1134.3" class="a"/>
<line x1="1755.5" y1="1141.4" x2="1755.5" y2="711.5" class="a"/>
<line x1="1755.5" y1="1141.4" x2="1744.56" y2="1140.22" class="a"/>
<line x1="1755.5" y1="1098.41" x2="1744.56" y2="1097.23" class="a"/>
<line x1="1755.5" y1="1055.42" x2="1744.56" y2="1054.24" class="a"/>
<line x1="1755.5" y1="1012.43" x2="1744.56" y2="1011.25" class="a"/>
<line x1="1755.5" y1="969.44" x2="1744.56" y2="968.26" class="a"/>
<line x1="1755.5" y1="926.45" x2="1744.56" y2="925.27" class="a"/>
<line x1="1755.5" y1="883.46" x2="1744.56" y2="882.28" class="a"/>
<line x1="1755.5" y1="840.47" x2="1744.56" y2="839.29" class="a"/>
<line x1="1755.5" y1="797.48" x2="1744.56" y2="796.3" class="a"/>
<line x1="1755.5" y1="754.49" x2="1744.56" y2="753.31" class="a"/>
<line x1="1755.5" y1="711.5" x2="1744.56" y2="710.32" class="a"/>
<line x1="2113.4" y1="1180.1" x2="2113.4" y2="1191.1" class="a"/>
<line x1="2113.4" y1="1180.1" x2="2113.4" y2="1191.1" class="a"/>
<line x1="2173.54" y1="1170.94" x2="2173.54" y2="1181.94" class="a"/>
<line x1="2041.82" y1="1172.36" x2="2041.82" y2="1183.36" class="a"/>
<line x1="2233.68" y1="1161.78" x2="2233.68" y2="1172.78" class="a"/>
<line x1="1970.24" y1="1164.62" x2="1970.24" y2="1175.62" class="a"/>
<line x1="2293.82" y1="1152.62" x2="2293.82" y2="1163.62" class="a"/>
<line x1="1898.66" y1="1156.88" x2="1898.66" y2="1167.88" class="a"/>
<line x1="2353.96" y1="1143.46" x2="2353.96" y2="1154.46" class="a"/>
<line x1="1827.08" y1="1149.14" x2="1827.08" y2="1160.14" class="a"/>
<line x1="2414.1" y1="1134.3" x2="2414.1" y2="1145.3" class="a"/>
<line x1="1755.5" y1="1141.4" x2="1755.5" y2="1152.4" class="a"/>
<text x="1737" y="1145.9" class="tz">0</text>
<text x="1737" y="1102.91" class="tz">0.1</text>
<text x="1737" y="1059.92" class="tz">0.2</text>
<text x="1737" y="1016.93" class="tz">0.3</text>
<text x="1737" y="973.94" class="tz">0.4</text>
<text x="1737" y="930.95" class="tz">0.5</text>
<text x="1737" y="887.96" class="tz">0.6</text>
<text x="1737" y="844.97" class="tz">0.7</text>
<text x="1737" y="801.98" class="tz">0.8</text>
<text x="1737" y="758.99" class="tz">0.9</text>
<text x="1737" y="716" class="tz">1</text>
<text x="2112.4" y="1216.3" class="tz">0</text>
<text x="2113.9" y="1215.6" class="t1">0</text>
<text x="2040.82" y="1208.56" class="tz">0.2</text>
<text x="2174.04" y="1206.44" class="t1">0.2</text>
<text x="1969.24" y="1200.82" class="tz">0.4</text>
<text x="2234.18" y="1197.28" class="t1">0.4</text>
<text x="1897.66" y="1193.08" class="tz">0.6</text>
<text x="2294.32" y="1188.12" class="t1">0.6</text>
<text x="1826.08" y="1185.34" class="tz">0.8</text>
<text x="2354.46" y="1178.96" class="t1">0.8</text>
<text x="1754.5" y="1177.6" class="tz">1</text>
<text x="2414.6" y="1169.8" class="t1">1</text>
<circle cx="2010.3" cy="751.8" r="3.5" fill="#000"/>
<circle cx="2022.1" cy="798.9" r="3.5" fill="#000"/>
<circle cx="2057.1" cy="832.9" r="3.5" fill="#000"/>
<circle cx="2067.3" cy="773.1" r="3.5" fill="#00f"/>
<circle cx="2086.6" cy="753.6" r="3.5" fill="#000"/>
<circle cx="2111.1" cy="740.8" r="3.5" fill="#000"/>
<circle cx="2110.6" cy="763.6" r="3.5" fill="#00f"/>
<circle cx="2119.8" cy="754.8" r="3.5" fill="#000"/>
<circle cx="2123.4" cy="757.2" r="3.5" fill="#000"/>
<circle cx="2101.1" cy="785.8" r="3.5" fill="#000"/>
<circle cx="2108.1" cy="784.6" r="3.5" fill="#000"/>
<circle cx="2126.7" cy="781.7" r="3.5" fill="#00f"/>
<circle cx="2086.4" cy="807.5" r="3.5" fill="#00f"/>
<circle cx="2096.0" cy="802.2" r="3.5" fill="#000"/>
<circle cx="2110.8" cy="803.8" r="3.5" fill="#00f"/>
<circle cx="2101.1" cy="817.4" r="3.5" fill="#00f"/>
<circle cx="2125.7" cy="830.9" r="3.5" fill="#000"/>
<circle cx="2097.3" cy="846.3" r="3.5" fill="#00f"/>
<circle cx="2106.0" cy="845.2" r="3.5" fill="#00f"/>
<circle cx="2110.8" cy="868.8" r="3.5" fill="#00f"/>
<circle cx="2080.9" cy="875.4" r="3.5" fill="#00f"/>
<circle cx="2091.9" cy="884.9" r="3.5" fill="#000"/>
<circle cx="2102.6" cy="885.5" r="3.5" fill="#000"/>
<circle cx="2126.0" cy="887.5" r="3.5" fill="#00f"/>
<circle cx="2036.6" cy="896.2" r="3.5" fill="#000"/>
<circle cx="1940.7" cy="908.4" r="3.5" fill="#000"/>
<circle cx="2063.0" cy="907.7" r="3.5" fill="#000"/>
<circle cx="2077.7" cy="900.2" r="3.5" fill="#00f"/>
<circle cx="2083.7" cy="905.6" r="3.5" fill="#00f"/>
<circle cx="2076.5" cy="908.5" r="3.5" fill="#00f"/>
<circle cx="2130.1" cy="902.7" r="3.5" fill="#00f"/>
<circle cx="2134.5" cy="907.5" r="3.5" fill="#00f"/>
<circle cx="2062.5" cy="927.4" r="3.5" fill="#000"/>
<circle cx="2113.9" cy="930.5" r="3.5" fill="#00f"/>
<circle cx="2132.1" cy="927.6" r="3.5" fill="#00f"/>
<circle cx="2134.0" cy="926.4" r="3.5" fill="#00f"/>
<circle cx="1964.3" cy="947.8" r="3.5" fill="#00f"/>
<circle cx="2073.3" cy="944.3" r="3.5" fill="#000"/>
<circle cx="2118.8" cy="946.2" r="3.5" fill="#000"/>
<circle cx="2130.1" cy="948.1" r="3.5" fill="#00f"/>
<circle cx="2130.1" cy="951.1" r="3.5" fill="#00f"/>
<circle cx="2108.1" cy="953.5" r="3.5" fill="#00f"/>
<circle cx="2134.5" cy="962.9" r="3.5" fill="#000"/>
<circle cx="2111.6" cy="979.0" r="3.5" fill="#00f"/>
<circle cx="2095.3" cy="998.3" r="3.5" fill="#000"/>
<circle cx="2105.2" cy="999.3" r="3.5" fill="#000"/>
<circle cx="2116.5" cy="999.8" r="3.5" fill="#000"/>
<circle cx="2103.5" cy="1006.4" r="3.5" fill="#000"/>
<circle cx="2110.8" cy="1008.2" r="3.5" fill="#00f"/>
<circle cx="2133.3" cy="996.2" r="3.5" fill="#00f"/>
<circle cx="2101.9" cy="1048.1" r="3.5" fill="#00f"/>
<circle cx="2130.1" cy="1047.9" r="3.5" fill="#00f"/>
<circle cx="2118.8" cy="1053.8" r="3.5" fill="#00f"/>
<circle cx="2125.8" cy="1057.1" r="3.5" fill="#00f"/>
<circle cx="2109.8" cy="1075.3" r="3.5" fill="#00f"/>
<circle cx="2118.8" cy="1074.0" r="3.5" fill="#00f"/>
<circle cx="2128.0" cy="1071.9" r="3.5" fill="#00f"/>
<circle cx="2130.1" cy="1078.1" r="3.5" fill="#00f"/>
<circle cx="2067.4" cy="1116.6" r="3.5" fill="#000"/>
<circle cx="2105.8" cy="1123.3" r="3.5" fill="#00f"/>
<circle cx="2107.5" cy="1158.1" r="3.5" fill="#000"/>
<circle cx="2108.6" cy="1156.0" r="3.5" fill="#00f"/>
<circle cx="2150.0" cy="737.1" r="3.5" fill="#000"/>
<circle cx="2162.0" cy="741.1" r="3.5" fill="#000"/>
<circle cx="2169.1" cy="736.4" r="3.5" fill="#000"/>
<circle cx="2172.7" cy="740.4" r="3.5" fill="#000"/>
<circle cx="2194.7" cy="738.3" r="3.5" fill="#000"/>
<circle cx="2164.6" cy="749.9" r="3.5" fill="#000"/>
<circle cx="2173.6" cy="754.6" r="3.5" fill="#000"/>
<circle cx="2162.2" cy="757.4" r="3.5" fill="#000"/>
<circle cx="2177.9" cy="762.3" r="3.5" fill="#000"/>
<circle cx="2160.7" cy="765.8" r="3.5" fill="#000"/>
<circle cx="2144.9" cy="764.1" r="3.5" fill="#00f"/>
<circle cx="2139.0" cy="772.2" r="3.5" fill="#000"/>
<circle cx="2155.5" cy="779.4" r="3.5" fill="#000"/>
<circle cx="2175.3" cy="784.5" r="3.5" fill="#000"/>
<circle cx="2175.1" cy="790.8" r="3.5" fill="#00f"/>
<circle cx="2143.8" cy="791.2" r="3.5" fill="#000"/>
<circle cx="2152.2" cy="791.7" r="3.5" fill="#000"/>
<circle cx="2155.6" cy="797.2" r="3.5" fill="#000"/>
<circle cx="2140.7" cy="811.2" r="3.5" fill="#000"/>
<circle cx="2194.0" cy="776.5" r="3.5" fill="#00f"/>
<circle cx="2196.9" cy="785.8" r="3.5" fill="#000"/>
<circle cx="2195.1" cy="792.7" r="3.5" fill="#00f"/>
<circle cx="2201.6" cy="797.6" r="3.5" fill="#000"/>
<circle cx="2202.0" cy="805.1" r="3.5" fill="#00f"/>
<circle cx="2202.6" cy="809.9" r="3.5" fill="#00f"/>
<circle cx="2202.2" cy="812.5" r="3.5" fill="#00f"/>
<circle cx="2214.7" cy="734.5" r="3.5" fill="#000"/>
<circle cx="2223.4" cy="732.3" r="3.5" fill="#00f"/>
<circle cx="2230.6" cy="728.9" r="3.5" fill="#000"/>
<circle cx="2234.4" cy="720.7" r="3.5" fill="#00f"/>
<circle cx="2223.5" cy="742.8" r="3.5" fill="#00f"/>
<circle cx="2236.3" cy="738.5" r="3.5" fill="#000"/>
<circle cx="2241.3" cy="734.2" r="3.5" fill="#00f"/>
<circle cx="2243.9" cy="735.1" r="3.5" fill="#000"/>
<circle cx="2246.5" cy="732.1" r="3.5" fill="#000"/>
<circle cx="2216.8" cy="750.8" r="3.5" fill="#000"/>
<circle cx="2212.1" cy="753.7" r="3.5" fill="#00f"/>
<circle cx="2208.8" cy="763.2" r="3.5" fill="#000"/>
<circle cx="2217.1" cy="766.9" r="3.5" fill="#000"/>
<circle cx="2223.5" cy="767.8" r="3.5" fill="#00f"/>
<circle cx="2233.6" cy="770.2" r="3.5" fill="#00f"/>
<circle cx="2236.9" cy="773.5" r="3.5" fill="#000"/>
<circle cx="2205.9" cy="780.9" r="3.5" fill="#00f"/>
<circle cx="2215.1" cy="783.0" r="3.5" fill="#000"/>
<circle cx="2220.3" cy="779.4" r="3.5" fill="#00f"/>
<circle cx="2227.4" cy="782.8" r="3.5" fill="#00f"/>
<circle cx="2233.6" cy="785.4" r="3.5" fill="#00f"/>
<circle cx="2223.4" cy="792.4" r="3.5" fill="#00f"/>
<circle cx="2223.4" cy="802.4" r="3.5" fill="#00f"/>
<circle cx="2235.5" cy="813.5" r="3.5" fill="#00f"/>
<circle cx="2245.6" cy="755.0" r="3.5" fill="#00f"/>
<circle cx="2266.9" cy="755.3" r="3.5" fill="#00f"/>
<circle cx="2285.2" cy="758.7" r="3.5" fill="#00f"/>
<circle cx="2290.1" cy="739.8" r="3.5" fill="#000"/>
<circle cx="2309.9" cy="741.8" r="3.5" fill="#000"/>
<circle cx="2332.6" cy="746.9" r="3.5" fill="#000"/>
<circle cx="2260.9" cy="783.5" r="3.5" fill="#000"/>
<circle cx="2283.9" cy="779.4" r="3.5" fill="#00f"/>
<circle cx="2303.0" cy="789.2" r="3.5" fill="#000"/>
<circle cx="2274.2" cy="795.7" r="3.5" fill="#000"/>
<circle cx="2202.0" cy="815.6" r="3.5" fill="#00f"/>
<circle cx="2158.6" cy="820.3" r="3.5" fill="#000"/>
<circle cx="2193.0" cy="819.0" r="3.5" fill="#000"/>
<circle cx="2149.1" cy="823.1" r="3.5" fill="#00f"/>
<circle cx="2176.7" cy="825.0" r="3.5" fill="#000"/>
<circle cx="2189.9" cy="824.4" r="3.5" fill="#00f"/>
<circle cx="2136.0" cy="828.7" r="3.5" fill="#000"/>
<circle cx="2142.5" cy="831.9" r="3.5" fill="#000"/>
<circle cx="2145.5" cy="831.9" r="3.5" fill="#000"/>
<circle cx="2167.6" cy="835.4" r="3.5" fill="#000"/>
<circle cx="2181.0" cy="834.2" r="3.5" fill="#000"/>
<circle cx="2180.3" cy="839.2" r="3.5" fill="#000"/>
<circle cx="2157.5" cy="843.5" r="3.5" fill="#00f"/>
<circle cx="2171.7" cy="850.4" r="3.5" fill="#00f"/>
<circle cx="2180.0" cy="850.2" r="3.5" fill="#00f"/>
<circle cx="2160.9" cy="858.8" r="3.5" fill="#000"/>
<circle cx="2193.4" cy="858.0" r="3.5" fill="#00f"/>
<circle cx="2201.3" cy="848.0" r="3.5" fill="#000"/>
<circle cx="2206.3" cy="846.1" r="3.5" fill="#00f"/>
<circle cx="2211.2" cy="856.2" r="3.5" fill="#00f"/>
<circle cx="2218.5" cy="834.2" r="3.5" fill="#00f"/>
<circle cx="2218.7" cy="845.7" r="3.5" fill="#000"/>
<circle cx="2229.5" cy="828.2" r="3.5" fill="#00f"/>
<circle cx="2237.0" cy="831.1" r="3.5" fill="#000"/>
<circle cx="2234.7" cy="836.2" r="3.5" fill="#00f"/>
<circle cx="2236.3" cy="836.6" r="3.5" fill="#000"/>
<circle cx="2245.8" cy="829.9" r="3.5" fill="#00f"/>
<circle cx="2259.8" cy="823.6" r="3.5" fill="#00f"/>
<circle cx="2232.1" cy="843.4" r="3.5" fill="#000"/>
<circle cx="2226.4" cy="854.3" r="3.5" fill="#000"/>
<circle cx="2150.6" cy="869.6" r="3.5" fill="#000"/>
<circle cx="2150.4" cy="875.1" r="3.5" fill="#00f"/>
<circle cx="2187.0" cy="877.9" r="3.5" fill="#00f"/>
<circle cx="2166.8" cy="883.2" r="3.5" fill="#000"/>
<circle cx="2208.5" cy="872.8" r="3.5" fill="#000"/>
<circle cx="2204.4" cy="875.3" r="3.5" fill="#000"/>
<circle cx="2205.2" cy="880.1" r="3.5" fill="#000"/>
<circle cx="2218.3" cy="909.3" r="3.5" fill="#00f"/>
<circle cx="2138.6" cy="892.3" r="3.5" fill="#000"/>
<circle cx="2183.7" cy="896.7" r="3.5" fill="#00f"/>
<circle cx="2193.0" cy="896.2" r="3.5" fill="#000"/>
<circle cx="2187.9" cy="909.9" r="3.5" fill="#000"/>
<circle cx="2257.8" cy="907.0" r="3.5" fill="#000"/>
<circle cx="2199.5" cy="917.0" r="3.5" fill="#00f"/>
<circle cx="2150.6" cy="917.9" r="3.5" fill="#00f"/>
<circle cx="2138.3" cy="920.5" r="3.5" fill="#00f"/>
<circle cx="2154.9" cy="920.4" r="3.5" fill="#000"/>
<circle cx="2153.6" cy="928.6" r="3.5" fill="#000"/>
<circle cx="2152.4" cy="933.7" r="3.5" fill="#000"/>
<circle cx="2209.1" cy="934.6" r="3.5" fill="#000"/>
<circle cx="2199.2" cy="939.5" r="3.5" fill="#00f"/>
<circle cx="2165.7" cy="944.7" r="3.5" fill="#00f"/>
<circle cx="2146.3" cy="949.6" r="3.5" fill="#00f"/>
<circle cx="2154.3" cy="950.5" r="3.5" fill="#00f"/>
<circle cx="2203.2" cy="955.2" r="3.5" fill="#00f"/>
<circle cx="2176.7" cy="959.9" r="3.5" fill="#000"/>
<circle cx="2190.9" cy="963.6" r="3.5" fill="#00f"/>
<circle cx="2141.4" cy="967.0" r="3.5" fill="#00f"/>
<circle cx="2157.3" cy="969.0" r="3.5" fill="#000"/>
<circle cx="2209.9" cy="966.6" r="3.5" fill="#000"/>
<circle cx="2219.4" cy="966.6" r="3.5" fill="#00f"/>
<circle cx="2220.9" cy="967.4" r="3.5" fill="#000"/>
<circle cx="2230.4" cy="960.6" r="3.5" fill="#00f"/>
<circle cx="2146.3" cy="977.8" r="3.5" fill="#00f"/>
<circle cx="2143.2" cy="985.7" r="3.5" fill="#000"/>
<circle cx="2178.8" cy="985.1" r="3.5" fill="#000"/>
<circle cx="2191.7" cy="997.7" r="3.5" fill="#00f"/>
<circle cx="2235.3" cy="993.5" r="3.5" fill="#000"/>
<circle cx="2203.1" cy="1020.0" r="3.5" fill="#00f"/>
<circle cx="2218.3" cy="1017.6" r="3.5" fill="#00f"/>
<circle cx="2255.5" cy="1019.3" r="3.5" fill="#000"/>
<circle cx="2141.2" cy="1022.0" r="3.5" fill="#00f"/>
<circle cx="2144.0" cy="1024.9" r="3.5" fill="#000"/>
<circle cx="2140.7" cy="1041.7" r="3.5" fill="#000"/>
<circle cx="2207.1" cy="1040.4" r="3.5" fill="#00f"/>
<circle cx="2136.0" cy="1053.5" r="3.5" fill="#00f"/>
<circle cx="2242.4" cy="1067.0" r="3.5" fill="#00f"/>
</g>
<text x="651.5" y="579" class="al">Dimension 2</text>
<text x="1095.9" y="577.3" class="al">Dimension 1</text>
<text transform="translate(470.4,295) rotate(-90)" class="al">Dimension 3</text>
<text x="1476" y="579" class="al">Dimension 2</text>
<text x="1920.4" y="577.3" class="al">Dimension 1</text>
<text transform="translate(1294.9,295) rotate(-90)" class="al">Dimension 3</text>
<text x="224.85" y="1233.5" class="al">Dimension 2</text>
<text x="671.2" y="1232.7" class="al">Dimension 1</text>
<text transform="translate(43.4,926.8) rotate(-90)" class="al">Dimension 3</text>
<text x="1043.25" y="1233.5" class="al">Dimension 2</text>
<text x="1489.6" y="1232.7" class="al">Dimension 1</text>
<text transform="translate(861.8,926.8) rotate(-90)" class="al">Dimension 3</text>
<text x="1882.95" y="1233.5" class="al">Dimension 2</text>
<text x="2329.3" y="1232.7" class="al">Dimension 1</text>
<text transform="translate(1701.5,926.8) rotate(-90)" class="al">Dimension 3</text>
<text x="853.1" y="47.1" class="ti">Spiking Neural Network</text>
<text x="1677.3" y="46.8" class="ti">Reference Neural Network</text>
<text x="861.2" y="629.4" class="ti">(a)</text>
<text x="1690.1" y="629.4" class="ti">(b)</text>
<text x="431.8" y="1306.4" class="ti">(c)</text>
<text x="1264.8" y="1306.4" class="ti">(d)</text>
<text x="2113.7" y="1306.4" class="ti">(e)</text>
</svg>
</body></html>
